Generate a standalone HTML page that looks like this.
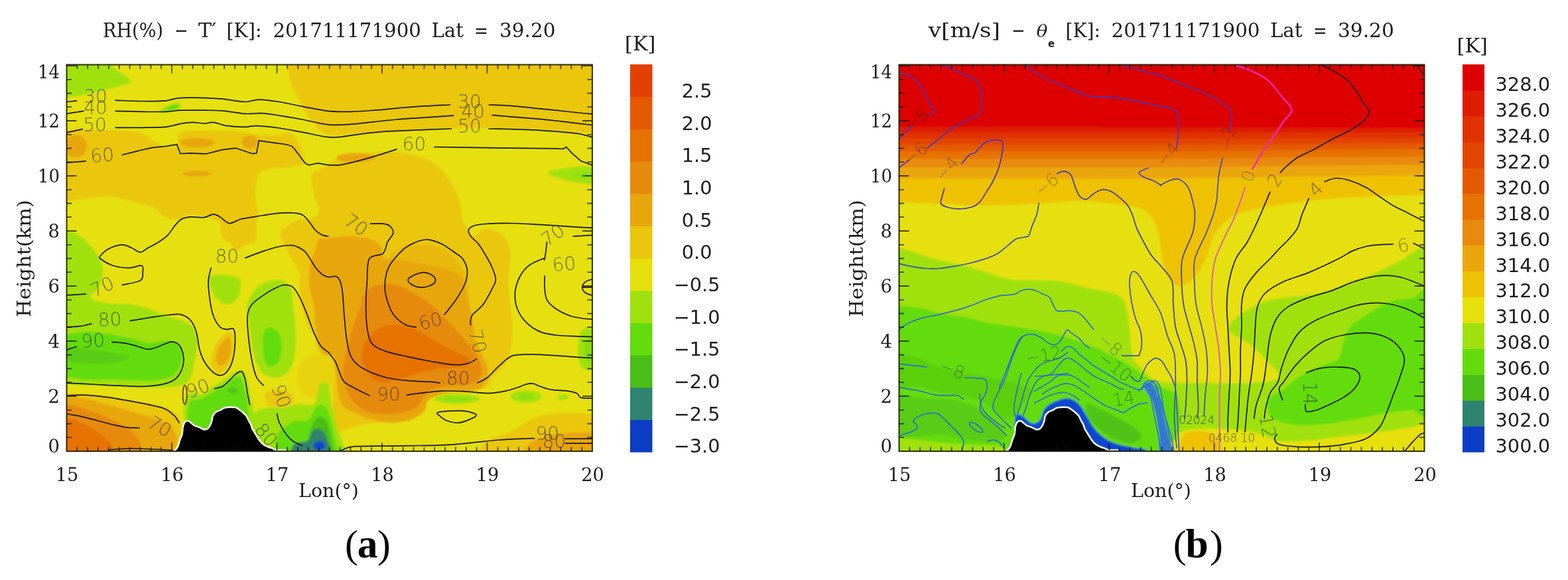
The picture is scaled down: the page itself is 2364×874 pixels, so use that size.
<!DOCTYPE html>
<html lang="en"><head><meta charset="utf-8"><title>Cross sections</title>
<style>html,body{margin:0;padding:0;background:#fff}svg{display:block}text{font-family:"DejaVu Serif","Liberation Serif",serif;fill:#1c1c1c}.sans{font-family:"DejaVu Sans","Liberation Sans",sans-serif}.lab{font-family:"DejaVu Sans Light","DejaVu Sans","Liberation Sans",sans-serif;font-weight:200}.capr{font-family:"Liberation Serif","DejaVu Serif",serif;fill:#000}.cap{font-family:"Liberation Serif","DejaVu Serif",serif;font-weight:bold;fill:#000}</style></head><body>
<svg width="2364" height="874" viewBox="0 0 2364 874">
<defs>
<filter id="bf" x="-5%" y="-5%" width="110%" height="110%"><feGaussianBlur stdDeviation="1.6"/></filter>
<filter id="bl" x="-5%" y="-5%" width="110%" height="110%"><feGaussianBlur stdDeviation="0.6"/></filter>
<filter id="bc" x="-10%" y="-20%" width="120%" height="140%"><feGaussianBlur stdDeviation="0.45"/></filter>
<filter id="bt" x="-5%" y="-20%" width="110%" height="140%"><feGaussianBlur stdDeviation="0.7"/></filter>
<clipPath id="cl"><rect x="100.5" y="97.5" width="792.5" height="582.5"/></clipPath>
<clipPath id="cr"><rect x="1355.5" y="97.5" width="792.0" height="582.5"/></clipPath>
</defs>
<rect width="2364" height="874" fill="#fff"/>
<g clip-path="url(#cl)">
<rect x="98.5" y="95.5" width="796.5" height="586.5" fill="#E6E010"/>
<g filter="url(#bf)">
<path d="M26.3 193C36.6 175 68.1 194.3 88.1 194.7C108.2 195.2 126.5 195 146.5 195.8C166.5 196.5 192.9 195.6 208.3 199.2C223.8 202.7 229.5 213.2 239.2 217C248.9 220.9 261.5 225.1 266.7 222.2C271.8 219.3 264.4 204 270.1 199.9C275.8 195.7 286.9 197.6 301 197.1C315.1 196.7 340 196.1 354.9 197.1C369.8 198.2 379.2 202.3 390.3 203.3C401.3 204.3 413.2 203.9 421.2 203.3C429.2 202.7 433.2 197 438.3 199.9C443.5 202.7 448.6 213 452.1 220.5C455.5 227.9 461.2 239.4 458.9 244.5C456.7 249.7 447.5 249.7 438.3 251.4C429.2 253.1 413.7 251.9 404 254.8C394.3 257.7 384.6 262.8 380 268.5C375.4 274.3 375.4 282.3 376.5 289.1C377.7 296 385.1 301.7 386.8 309.7C388.6 317.8 387.4 328.1 386.8 337.2C386.3 346.4 388.6 359.5 383.4 364.7C378.3 369.8 364 369.3 355.9 368.1C347.9 367 339.3 363 335.3 357.8C331.3 352.7 335.3 342.4 331.9 337.2C328.5 332.1 322.2 329.2 314.7 326.9C307.3 324.6 295.3 322.9 287.3 323.5C279.3 324 273 329.8 266.7 330.3C260.4 330.9 255.2 329.8 249.5 326.9C243.8 324 240.9 317.2 232.3 313.2C223.8 309.2 209.4 305.7 198 302.9C186.6 300 175.1 296.6 163.7 296C152.2 295.4 141.9 298.3 129.3 299.4C116.7 300.6 105.3 302.3 88.1 302.9C71 303.4 36.6 321.2 26.3 302.9C16 284.6 16 211 26.3 193Z" fill="#EAC60A"/>
<path d="M424.6 69.4C339.9 74 430.9 87.7 433.2 96.9C435.5 106 434.6 114 438.3 124.3C442.1 134.6 449.8 148.4 455.5 158.7C461.2 169 466.1 178.7 472.7 186.1C479.3 193.6 485.6 200.7 495 203.3C504.4 205.9 517.9 202.2 529.3 201.6C540.8 201 552.2 200.4 563.7 199.9C575.1 199.3 583.7 199 598 198.2C612.3 197.3 632.3 195.6 649.5 194.7C666.7 193.9 681 193.3 701 193C721 192.7 746.8 192.4 769.7 193C792.6 193.6 817.9 195.3 838.3 196.4C858.8 197.6 875.4 199.3 892.6 199.9C909.8 200.4 933.2 221.6 941.4 199.9C949.5 178.1 1027.5 91.1 941.4 69.4C855.2 47.7 509.3 64.8 424.6 69.4Z" fill="#EAC60A"/>
<path d="M470.2 263.3C472.5 256.4 478.8 258.2 487.3 253C495.9 247.9 510.2 236.1 521.7 232.4C533.1 228.7 543.4 231.3 556 230.7C568.6 230.1 582.9 227.5 597.2 229C611.5 230.4 630.4 234.7 641.8 239.3C653.3 243.8 659 249.6 665.9 256.4C672.7 263.3 678.5 272.5 683 280.5C687.6 288.5 691.1 296.5 693.3 304.5C695.6 312.5 695.1 322.2 696.8 328.5C698.5 334.8 700.8 337.7 703.6 342.3C706.5 346.9 709.2 355.6 713.9 356C718.7 356.4 724.9 345.3 731.9 344.8C738.9 344.2 749.9 348.2 755.9 352.7C762 357.1 765.7 365.3 768 371.5C770.3 377.8 770 381.2 769.7 390C769.4 398.8 766.2 412.9 766.2 424.3C766.2 435.8 768.5 447.2 769.7 458.7C770.8 470.1 773.1 481.6 773.1 493C773.1 504.4 772 517.6 769.7 527.3C767.4 537.1 764 544.5 759.4 551.4C754.8 558.2 746.2 563.4 742.2 568.5C738.2 573.7 742.2 579.4 735.3 582.3C728.5 585.1 715.3 584 701 585.7C686.7 587.4 659.8 588.6 649.5 592.6C639.2 596.6 643.2 604 639.2 609.7C635.2 615.5 632.3 622.9 625.5 626.9C618.6 630.9 608.3 632.1 598 633.8C587.7 635.5 575.1 635.5 563.7 637.2C552.2 638.9 537.9 641.8 529.3 644.1C520.8 646.4 516.7 649.2 512.2 650.9C507.6 652.7 503.6 663.5 501.9 654.4C500.2 645.2 502.4 614.3 501.9 596C501.3 577.7 500.7 561.7 498.4 544.5C496.1 527.3 492.4 499.9 488.1 493C483.8 486.1 477.5 506.2 472.7 503.3C467.8 500.4 462.4 486.1 458.9 475.8C455.5 465.5 452.7 452.9 452.1 441.5C451.5 430.1 451.4 405.7 455.5 407.2C459.7 408.6 474 447.2 477 450.1C480.1 453 473.6 434.6 473.6 424.7C473.6 414.7 478.8 399.5 477 390.3C475.3 381.2 470.2 374.3 463.3 369.7C456.4 365.2 442.1 366.9 435.8 362.9C429.5 358.9 422.7 350.3 425.5 345.7C428.4 341.1 443.8 339.4 453 335.4C462.2 331.4 477 328.5 480.5 321.7C483.9 314.8 475.3 303.9 473.6 294.2C471.9 284.5 467.9 270.2 470.2 263.3Z" fill="#EAC60A"/>
<path d="M350 204.9C355.7 190.6 364.3 199.2 370.6 201.5C376.9 203.8 384.3 210.1 387.8 218.7C391.2 227.3 391.8 241.6 391.2 253C390.6 264.4 384.9 275.9 384.3 287.3C383.8 298.8 388.3 310.2 387.8 321.7C387.2 333.1 384.9 347.4 380.9 356C376.9 364.6 368.9 370.9 363.7 373.2C358.6 375.5 354.6 384 350 369.7C345.4 355.4 336.3 314.8 336.3 287.3C336.3 259.9 344.3 219.2 350 204.9Z" fill="#EAC60A"/>
<path d="M424.4 348.6C428.6 342.9 442.7 333.1 451.9 330.8C461 328.5 470.2 331.5 479.4 334.9C488.5 338.3 502.2 319.4 506.8 351.4C511.4 383.4 511.4 497.8 506.8 527.1C502.2 556.4 485.1 536.2 479.4 527.1C473.6 517.9 475 487.7 472.5 472.2C470 456.6 467.7 443.8 464.3 433.7C460.8 423.7 456.2 419.6 451.9 411.8C447.6 404 442.3 394.8 438.2 387.1C434.1 379.3 429.5 371.5 427.2 365.1C424.9 358.7 420.3 354.4 424.4 348.6Z" fill="#EAC60A"/>
<path d="M26.3 590.9C38.6 567.4 83 592 100.2 592.6C117.3 593.1 118.7 593.4 129.3 594.3C139.9 595.2 152.2 596 163.7 597.7C175.1 599.4 186.6 602.6 198 604.6C209.4 606.6 222.6 607.7 232.3 609.7C242.1 611.7 250.1 613.2 256.4 616.6C262.7 620 267.2 624.6 270.1 630.3C273 636.1 274.1 642.6 273.5 650.9C273 659.2 267.8 666.4 266.7 680.1C265.5 693.9 306.7 724.5 266.7 733.3C226.6 742.2 66.4 757.1 26.3 733.3C-13.7 709.6 14 614.3 26.3 590.9Z" fill="#EAC60A"/>
<path d="M321.6 527.3C323.9 521 327.9 514.7 331.9 510.2C335.9 505.6 342.2 499.9 345.6 499.9C349.1 499.9 351.7 504.4 352.5 510.2C353.4 515.9 352.5 526.8 350.8 534.2C349.1 541.6 345.9 550.2 342.2 554.8C338.5 559.4 332.5 562.8 328.5 561.7C324.5 560.5 319.3 553.7 318.2 547.9C317 542.2 319.3 533.6 321.6 527.3Z" fill="#EAC60A"/>
<path d="M458.9 541.1C462.7 537.6 466.7 534.8 472.7 534.2C478.7 533.6 489.3 533.1 495 537.6C500.7 542.2 507 552.5 507 561.7C507 570.8 500.7 586.3 495 592.6C489.3 598.9 479.3 599.4 472.7 599.4C466.1 599.4 459.5 596.6 455.5 592.6C451.5 588.6 449.5 581.7 448.6 575.4C447.8 569.1 448.6 560.5 450.4 554.8C452.1 549.1 455.2 544.5 458.9 541.1Z" fill="#E8D20C"/>
<path d="M400.6 592.6C402.9 588.9 411.5 587.4 417.7 587.4C424 587.4 434.3 589.4 438.3 592.6C442.4 595.7 444.1 602.9 441.8 606.3C439.5 609.7 430.9 612.6 424.6 613.2C418.3 613.7 408 613.2 404 609.7C400 606.3 398.3 596.3 400.6 592.6Z" fill="#EAC60A"/>
<path d="M718.2 688.7C721 677.3 726.8 671 735.3 664.7C743.9 658.4 758.2 656.7 769.7 650.9C781.1 645.2 792.6 634.9 804 630.3C815.5 625.8 823.6 624.6 838.3 623.5C853.1 622.3 875.4 623.5 892.6 623.5C909.8 623.5 933.2 605.2 941.4 623.5C949.5 641.8 978.5 715 941.4 733.3C904.2 751.7 755.4 740.8 718.2 733.3C681 725.9 715.3 700.2 718.2 688.7Z" fill="#EAC60A"/>
<path d="M586.9 390.3C588.6 376.6 595.5 380 600.6 376.6C605.8 373.2 609.2 370.9 617.8 369.7C626.4 368.6 641.8 367.5 652.1 369.7C662.4 372 671.6 376.6 679.6 383.5C687.6 390.3 695.6 402.4 700.2 410.9C704.8 419.5 708.2 427 707.1 435C705.9 443 712.8 455 693.3 459C673.9 463 608.1 470.5 590.3 459C572.6 447.6 585.2 404.1 586.9 390.3Z" fill="#E9B80A"/>
<path d="M328.5 527.3C330.4 522.8 334.2 516.8 337.1 513.6C339.9 510.5 343.8 506.2 345.6 508.5C347.5 510.7 349 521.3 348.4 527.3C347.8 533.3 345 540.5 342.2 544.5C339.5 548.5 334.7 551.9 331.9 551.4C329.2 550.8 326.3 545.1 325.7 541.1C325.2 537.1 326.6 531.9 328.5 527.3Z" fill="#E8A60A"/>
<path d="M786.8 688.7C789.7 677.3 795.4 670.4 804 664.7C812.6 659 823.6 656.7 838.3 654.4C853.1 652.1 875.4 651.5 892.6 650.9C909.8 650.4 933.2 637.2 941.4 650.9C949.5 664.7 967.1 719.6 941.4 733.3C915.6 747.1 812.6 740.8 786.8 733.3C761.1 725.9 784 700.2 786.8 688.7Z" fill="#E8A60A"/>
<path d="M563.7 400.3C569.4 394.6 569.4 390.6 580.8 390C592.3 389.4 614.6 393.4 632.3 396.9C650.1 400.3 675.8 404.9 687.3 410.6C698.7 416.3 697 420.3 701 431.2C705 442.1 708.7 462.7 711.3 475.8C713.9 489 713.6 499.9 716.5 510.2C719.3 520.5 725.3 529.6 728.5 537.6C731.6 545.7 735.9 550.2 735.3 558.2C734.8 566.3 735.3 580 725 585.7C714.7 591.4 686.7 589.7 673.5 592.6C660.4 595.4 651.8 598.3 646.1 602.9C640.4 607.5 644.4 614.9 639.2 620C634.1 625.2 624.9 631 615.2 633.8C605.4 636.5 592.3 637.7 580.8 636.5C569.4 635.4 557.4 631.4 546.5 626.9C535.6 622.4 522.2 619.5 515.6 609.7C509 600 508.7 582.3 507 568.5C505.3 554.8 503.9 539.9 505.3 527.3C506.7 514.7 511.6 504.4 515.6 493C519.6 481.6 524.2 470.1 529.3 458.7C534.5 447.2 540.8 434.1 546.5 424.3C552.2 414.6 557.9 406 563.7 400.3Z" fill="#E8A60A"/>
<path d="M477 369.7C479.9 353.1 485.6 361.7 494.2 359.4C502.8 357.2 518.2 356 528.5 356C538.8 356 548.6 357.2 556 359.4C563.4 361.7 569.5 364.6 573.2 369.7C576.9 374.9 576 383.5 578.3 390.3C580.6 397.2 584.9 399.5 586.9 410.9C588.9 422.4 608.7 451 590.3 459C572 467 495.9 473.9 477 459C458.2 444.1 474.2 386.3 477 369.7Z" fill="#E8A60A"/>
<path d="M26.3 596C38.6 573.4 83 596.9 100.2 597.7C117.3 598.6 118.7 599.2 129.3 601.2C139.9 603.2 152.2 606.6 163.7 609.7C175.1 612.9 186.6 616.6 198 620C209.4 623.5 222.6 626.9 232.3 630.3C242.1 633.8 250.7 635.5 256.4 640.6C262.1 645.8 265.5 654.7 266.7 661.2C267.8 667.8 263.8 668.1 263.2 680.1C262.7 692.1 302.7 724.5 263.2 733.3C223.8 742.2 65.8 756.2 26.3 733.3C-13.2 710.5 14 618.6 26.3 596Z" fill="#E8A60A"/>
<path d="M472.7 383.1C477.5 376.3 483.6 376.3 495 383.1C506.4 390 533.6 400.3 541.4 424.3C549.1 448.4 549.1 509 541.4 527.3C533.6 545.7 504.7 534.2 495 534.2C485.3 534.2 486.1 534.2 483 527.3C479.8 520.5 477.8 504.4 476.1 493C474.4 481.6 474.4 470.1 472.7 458.7C471 447.2 465.8 436.9 465.8 424.3C465.8 411.7 467.8 390 472.7 383.1Z" fill="#E8A60A"/>
<path d="M131.1 220.5C131.1 223.8 129.7 227.8 127.8 230.6C125.8 233.3 122.4 235.8 119.2 236.8C116 237.8 111.8 237.8 108.6 236.8C105.4 235.8 102 233.3 100 230.6C98 227.8 96.7 223.8 96.7 220.5C96.7 217.1 98 213.1 100 210.4C102 207.7 105.4 205.2 108.6 204.1C111.8 203.1 116 203.1 119.2 204.1C122.4 205.2 125.8 207.7 127.8 210.4C129.7 213.1 131.1 217.1 131.1 220.5Z" fill="#E8A60A"/>
<path d="M323.3 215.3C323.3 216.8 321.4 218.6 318.4 219.8C315.4 221 310.3 222 305.5 222.5C300.7 223 294.4 223 289.6 222.5C284.8 222 279.7 221 276.7 219.8C273.8 218.6 271.8 216.8 271.8 215.3C271.8 213.8 273.8 212.1 276.7 210.9C279.7 209.7 284.8 208.6 289.6 208.1C294.4 207.7 300.7 207.7 305.5 208.1C310.3 208.6 315.4 209.7 318.4 210.9C321.4 212.1 323.3 213.8 323.3 215.3Z" fill="#E8A60A"/>
<path d="M388.6 214.3C388.6 216.3 387.7 218.7 386.3 220.3C384.9 222 382.5 223.5 380.3 224.1C378 224.7 375.1 224.7 372.8 224.1C370.6 223.5 368.2 222 366.8 220.3C365.4 218.7 364.5 216.3 364.5 214.3C364.5 212.3 365.4 209.9 366.8 208.2C368.2 206.6 370.6 205.1 372.8 204.5C375.1 203.9 378 203.9 380.3 204.5C382.5 205.1 384.9 206.6 386.3 208.2C387.7 209.9 388.6 212.3 388.6 214.3Z" fill="#E8A60A"/>
<path d="M319.2 261.7C319.2 262.5 317.5 263.4 314.9 264.1C312.4 264.7 307.9 265.3 303.8 265.6C299.6 265.8 294.2 265.8 290 265.6C285.8 265.3 281.4 264.7 278.8 264.1C276.3 263.4 274.6 262.5 274.6 261.7C274.6 260.9 276.3 259.9 278.8 259.3C281.4 258.6 285.8 258 290 257.8C294.2 257.5 299.6 257.5 303.8 257.8C307.9 258 312.4 258.6 314.9 259.3C317.5 259.9 319.2 260.9 319.2 261.7Z" fill="#E8A60A"/>
<path d="M565.4 237.6C565.4 239 563.2 240.6 559.8 241.7C556.5 242.8 550.7 243.8 545.2 244.2C539.8 244.6 532.6 244.6 527.2 244.2C521.7 243.8 516 242.8 512.6 241.7C509.2 240.6 507 239 507 237.6C507 236.3 509.2 234.7 512.6 233.6C516 232.5 521.7 231.5 527.2 231.1C532.6 230.7 539.8 230.7 545.2 231.1C550.7 231.5 556.5 232.5 559.8 233.6C563.2 234.7 565.4 236.3 565.4 237.6Z" fill="#E8A60A"/>
<path d="M522.5 527.3C525.9 512.6 532.2 490.1 537.9 475.8C543.6 461.5 549.6 448.9 556.8 441.5C564 434.1 571.1 431.8 580.8 431.2C590.6 430.6 603.7 433.5 615.2 438.1C626.6 442.6 638.1 449.5 649.5 458.7C661 467.8 674.1 482.7 683.8 493C693.6 503.3 701.6 512.5 707.9 520.5C714.2 528.5 718.6 534.2 721.6 541.1C724.6 547.9 727.4 555.4 725.7 561.7C724 568 721.7 575.2 711.3 578.8C700.9 582.4 675 580.6 663.2 583.3C651.5 586.1 646.5 590.3 640.9 595.3C635.3 600.3 635.9 608.6 629.6 613.2C623.3 617.8 613.6 621.1 603.2 622.8C592.7 624.5 577.1 624.8 567.1 623.5C557.1 622.1 549.9 619.2 543.1 614.5C536.2 609.9 530.2 603.7 525.9 595.3C521.6 586.9 517.9 575.4 517.3 564.1C516.7 552.7 519 542 522.5 527.3Z" fill="#E68A0A"/>
<path d="M556 435C561.7 429.8 574.3 428.1 583.5 428.1C592.6 428.1 604.1 429.8 610.9 435C617.8 440.1 635 455 624.7 459C614.4 463 560.6 463 549.1 459C537.7 455 550.3 440.1 556 435Z" fill="#E68A0A"/>
<path d="M26.3 608C38.6 587.4 83 608.3 100.2 609.7C117.3 611.2 118.7 613.2 129.3 616.6C139.9 620 153.4 625.8 163.7 630.3C174 634.9 183.7 638.9 191.1 644.1C198.6 649.2 204.9 655.2 208.3 661.2C211.7 667.3 211.2 668.1 211.7 680.1C212.3 692.1 242.6 724.5 211.7 733.3C180.8 742.2 57.2 754.2 26.3 733.3C-4.6 712.5 14 628.6 26.3 608Z" fill="#E68A0A"/>
<path d="M546.5 527.3C548.8 518.2 556.2 506.2 563.7 499.9C571.1 493.6 582 490.7 591.1 489.6C600.3 488.4 608.9 489.6 618.6 493C628.3 496.4 639.2 504.4 649.5 510.2C659.8 515.9 670.7 522.2 680.4 527.3C690.1 532.5 704.4 537.1 707.9 541.1C711.3 545.1 707.9 549.1 701 551.4C694.1 553.7 678.1 553.1 666.7 554.8C655.2 556.5 643.8 558.8 632.3 561.7C620.9 564.5 608.3 569.7 598 572C587.7 574.3 578.5 578.3 570.5 575.4C562.5 572.5 553.9 562.8 549.9 554.8C545.9 546.8 544.2 536.5 546.5 527.3Z" fill="#E67206"/>
<path d="M26.3 628.6C38.6 611.5 84.1 628.9 100.2 630.3C116.2 631.8 114.7 633.8 122.5 637.2C130.2 640.6 139.6 646.4 146.5 650.9C153.4 655.5 159.7 659.8 163.7 664.7C167.7 669.5 169.4 668.7 170.5 680.1C171.7 691.6 194.6 724.5 170.5 733.3C146.5 742.2 50.4 750.8 26.3 733.3C2.3 715.9 14 645.8 26.3 628.6Z" fill="#E67206"/>
<path d="M26.3 55.7C50.1 40.2 145.1 48.8 168.8 55.7C192.6 62.5 166.2 87.7 168.8 96.9C171.4 106 179.4 106.3 184.3 110.6C189.1 114.9 198.6 119.5 198 122.6C197.4 125.8 189.4 126.9 180.8 129.5C172.3 132.1 157.4 135.5 146.5 138.1C135.6 140.6 123.3 143.5 115.6 144.9C107.9 146.4 115 146.1 100.2 146.7C85.3 147.2 38.6 163.5 26.3 148.4C14 133.2 2.6 71.1 26.3 55.7Z" fill="#A0E10A"/>
<path d="M240.9 166.2C242.6 164.2 251.5 159.5 256.4 157.6C261.2 155.8 267.5 154.5 270.1 155.2C272.7 156 273.5 159.9 271.8 162.1C270.1 164.3 264.1 167 259.8 168.3C255.5 169.5 249.2 170 246.1 169.7C242.9 169.3 239.2 168.2 240.9 166.2Z" fill="#A0E10A"/>
<path d="M26.3 345.4C38.6 307 84.1 346.8 100.2 348.8C116.2 350.8 115.9 353.1 122.5 357.4C129 361.7 135.1 369.1 139.6 374.5C144.2 380 147.4 384.6 149.9 390C152.5 395.4 155.1 400.3 155.1 407.2C155.1 414 153.1 424.3 149.9 431.2C146.8 438.1 133.9 444.1 136.2 448.4C138.5 452.7 153.4 455.2 163.7 457C174 458.7 187.7 457.2 198 458.7C208.3 460.1 216.9 462.7 225.5 465.5C234.1 468.4 241.5 473 249.5 475.8C257.5 478.7 266.7 479.8 273.5 482.7C280.4 485.6 286.7 487.9 290.7 493C294.7 498.2 297 505.6 297.6 513.6C298.1 521.6 295.9 531.9 294.1 541.1C292.4 550.2 290.7 562 287.3 568.5C283.8 575.1 282.7 578 273.5 580.6C264.4 583.1 247.8 583.7 232.3 584C216.9 584.3 198 582.8 180.8 582.3C163.7 581.7 142.8 581.1 129.3 580.6C115.9 580 117.3 579.1 100.2 578.8C83 578.6 38.6 617.8 26.3 578.8C14 539.9 14 383.7 26.3 345.4Z" fill="#A0E10A"/>
<path d="M314.7 417.5C317.6 414 327.9 413.7 335.3 414C342.8 414.3 354.8 415.8 359.4 419.2C364 422.6 363.4 429.2 362.8 434.6C362.2 440.1 359.4 447.8 355.9 451.8C352.5 455.8 346.8 458.7 342.2 458.7C337.6 458.7 332.5 455.8 328.5 451.8C324.5 447.8 320.5 440.4 318.2 434.6C315.9 428.9 311.9 420.9 314.7 417.5Z" fill="#A0E10A"/>
<path d="M373.1 458.7C374.8 448.9 381.7 440.4 386.8 434.6C392 428.9 397.7 426.3 404 424.3C410.3 422.3 418.9 420.9 424.6 422.6C430.3 424.3 435.5 428.6 438.3 434.6C441.2 440.6 440.6 448.9 441.8 458.7C442.9 468.4 444.6 481.6 445.2 493C445.8 504.4 446.4 517 445.2 527.3C444.1 537.6 442.4 547.9 438.3 554.8C434.3 561.7 427.5 566.8 421.2 568.5C414.9 570.3 406.3 568.5 400.6 565.1C394.9 561.7 390.3 555.4 386.8 547.9C383.4 540.5 381.7 529.6 380 520.5C378.3 511.3 377.7 503.3 376.5 493C375.4 482.7 371.4 468.4 373.1 458.7Z" fill="#A0E10A"/>
<path d="M277.7 630.3C276.1 621.2 277.5 615.3 278 609.7C278.5 604.2 278.3 600.1 280.4 597C282.5 594 286.7 592 290.7 591.5C294.7 591.1 299.9 595.6 304.4 594.3C309 593 313 587.4 318.2 584C323.3 580.6 329 577.7 335.3 573.7C341.6 569.7 350.5 562.2 355.9 560C361.4 557.7 364.8 556.2 368 560C371.1 563.7 373.1 575.1 374.8 582.3C376.5 589.4 376.8 594.9 378.3 602.9C379.7 610.9 384.8 620 383.4 630.3C382 640.6 385.7 659 369.7 664.7C353.7 670.4 302.6 670.4 287.3 664.7C271.9 659 279.2 639.5 277.7 630.3Z" fill="#A0E10A"/>
<path d="M377.7 693.8C353.9 683.9 376 646.7 377.7 634.3C379.4 622 384.4 622.7 388.1 619.5C391.8 616.3 396 615.9 400 615C404 614.2 406.9 614.5 411.9 614.3C416.9 614 423.5 614.4 429.7 613.5C435.9 612.7 443.6 609.6 449.1 609.1C454.5 608.6 458.2 610.8 462.5 610.6C466.7 610.3 471.6 611.1 474.3 607.6C477.1 604.1 477.3 594.7 478.8 589.7C480.3 584.8 481.5 580.2 483.3 577.8C485 575.5 487.2 574.9 489.2 575.6C491.2 576.4 493.6 577.5 495.2 582.3C496.8 587.1 497.4 597.2 498.9 604.6C500.4 612 502.2 619.5 504.1 626.9C505.9 634.3 507.8 642 510 649.2C512.3 656.4 515.7 662.6 517.5 670C519.2 677.5 543.7 689.9 520.4 693.8C497.1 697.8 401.5 703.7 377.7 693.8Z" fill="#A0E10A"/>
<path d="M723.3 601.2C723.3 602.5 720.7 604.1 716.8 605.2C712.8 606.3 706 607.3 699.6 607.7C693.2 608.1 684.8 608.1 678.4 607.7C672 607.3 665.2 606.3 661.2 605.2C657.3 604.1 654.7 602.5 654.7 601.2C654.7 599.8 657.3 598.2 661.2 597.1C665.2 596 672 595 678.4 594.6C684.8 594.2 693.2 594.2 699.6 594.6C706 595 712.8 596 716.8 597.1C720.7 598.2 723.3 599.8 723.3 601.2Z" fill="#A0E10A"/>
<path d="M816.4 597.7C816.4 599.5 814.6 601.6 811.9 603C809.2 604.4 804.6 605.7 800.2 606.2C795.9 606.8 790.2 606.8 785.8 606.2C781.5 605.7 776.8 604.4 774.1 603C771.4 601.6 769.7 599.5 769.7 597.7C769.7 596 771.4 593.9 774.1 592.5C776.8 591.1 781.5 589.8 785.8 589.2C790.2 588.7 795.9 588.7 800.2 589.2C804.6 589.8 809.2 591.1 811.9 592.5C814.6 593.9 816.4 596 816.4 597.7Z" fill="#A0E10A"/>
<path d="M857.2 598.8C857.2 599.6 856.6 600.5 855.6 601.2C854.6 601.8 852.9 602.4 851.3 602.7C849.7 602.9 847.6 602.9 846 602.7C844.4 602.4 842.7 601.8 841.7 601.2C840.7 600.5 840.1 599.6 840.1 598.8C840.1 597.9 840.7 597 841.7 596.3C842.7 595.7 844.4 595.1 846 594.8C847.6 594.6 849.7 594.6 851.3 594.8C852.9 595.1 854.6 595.7 855.6 596.3C856.6 597 857.2 597.9 857.2 598.8Z" fill="#A0E10A"/>
<path d="M941.4 489.6C933.2 478.1 903.5 491.3 892.6 493C881.7 494.7 879.7 494.1 876.1 499.9C872.5 505.6 871 518.8 871 527.3C871 535.9 872.5 546.2 876.1 551.4C879.7 556.5 881.7 556.5 892.6 558.2C903.5 560 933.2 573.1 941.4 561.7C949.5 550.2 949.5 501 941.4 489.6Z" fill="#A0E10A"/>
<path d="M826.3 261C826.3 257.8 844.5 254.8 855.5 253.1C866.6 251.4 878.3 251.1 892.6 250.7C906.9 250.3 933.2 246.1 941.4 250.7C949.5 255.3 949.5 273.7 941.4 278.2C933.2 282.6 906.9 278.5 892.6 277.5C878.3 276.4 866.6 274.7 855.5 272C844.5 269.2 826.3 264.1 826.3 261Z" fill="#A0E10A"/>
<path d="M251.2 163.8C251.5 162.6 256.9 159.6 259.8 158.7C262.7 157.7 267.2 157.3 268.4 158C269.5 158.7 268.4 161.4 266.7 162.8C265 164.2 260.7 166.1 258.1 166.2C255.5 166.4 250.9 165.1 251.2 163.8Z" fill="#64DC0F"/>
<path d="M26.3 501.6C38.6 490.7 83 503.6 100.2 503.3C117.3 503 118.7 499.9 129.3 499.9C139.9 499.9 152.2 501.6 163.7 503.3C175.1 505 187.7 507.9 198 510.2C208.3 512.5 216.9 516.5 225.5 517C234.1 517.6 242.6 513.6 249.5 513.6C256.4 513.6 262.4 513.6 266.7 517C271 520.5 274.7 527.9 275.3 534.2C275.8 540.5 273.3 549.1 270.1 554.8C267 560.5 263.8 565.4 256.4 568.5C248.9 571.7 238.1 573.1 225.5 573.7C212.9 574.3 196.9 572.3 180.8 572C164.8 571.7 142.8 572.5 129.3 572C115.9 571.4 117.3 569.1 100.2 568.5C83 568 38.6 579.7 26.3 568.5C14 557.4 14 512.5 26.3 501.6Z" fill="#64DC0F"/>
<path d="M397.1 503.3C398.9 496.4 403.4 493 407.4 493C411.5 493 418.3 497.6 421.2 503.3C424 509 425.2 519.9 424.6 527.3C424 534.8 421.2 543.9 417.7 547.9C414.3 551.9 407.4 553.7 404 551.4C400.6 549.1 398.3 542.2 397.1 534.2C396 526.2 395.4 510.2 397.1 503.3Z" fill="#64DC0F"/>
<path d="M282.1 630.3C281.6 621.9 282.9 618.3 283.8 613.9C284.8 609.4 285.1 605.6 288 603.6C290.8 601.5 296 603.3 301 601.5C306 599.7 312.5 595.9 318.2 592.6C323.9 589.3 329.3 585.5 335.3 581.6C341.4 577.7 349.6 571.3 354.2 569.2C358.8 567.2 360.2 565.9 362.8 569.2C365.4 572.5 367.8 581.8 369.7 589.1C371.5 596.5 373.8 600.6 373.8 613.2C373.8 625.8 384.1 656.1 369.7 664.7C355.3 673.3 301.9 670.4 287.3 664.7C272.7 659 282.7 638.8 282.1 630.3Z" fill="#64DC0F"/>
<path d="M416.4 693.8C400.9 689.4 415.6 674.3 416.4 667.1C417.1 659.9 418.1 655 420.8 650.7C423.5 646.4 428.7 643.8 432.7 641C436.7 638.3 440.1 635.5 444.6 634.3C449.1 633.2 455.8 634.8 459.5 634.3C463.2 633.9 464.4 634.3 466.9 631.4C469.4 628.4 471.6 620 474.3 616.5C477.1 613 480.3 610.8 483.3 610.6C486.2 610.3 489.7 611.5 492.2 615C494.7 618.5 496.4 625.7 498.1 631.4C499.9 637.1 501.1 642.8 502.6 649.2C504.1 655.7 505.9 662.6 507.1 670C508.2 677.5 524.4 689.9 509.3 693.8C494.2 697.8 431.8 698.3 416.4 693.8Z" fill="#64DC0F"/>
<path d="M709.6 601.2C709.6 601.7 708 602.3 705.7 602.8C703.3 603.2 699.2 603.6 695.4 603.8C691.5 603.9 686.5 603.9 682.6 603.8C678.8 603.6 674.7 603.2 672.3 602.8C670 602.3 668.4 601.7 668.4 601.2C668.4 600.6 670 600 672.3 599.5C674.7 599.1 678.8 598.7 682.6 598.5C686.5 598.4 691.5 598.4 695.4 598.5C699.2 598.7 703.3 599.1 705.7 599.5C708 600 709.6 600.6 709.6 601.2Z" fill="#8AE00C"/>
<path d="M805.4 598.1C805.4 598.8 804.4 599.7 803 600.3C801.6 600.9 799.1 601.4 796.8 601.7C794.5 601.9 791.5 601.9 789.2 601.7C786.9 601.4 784.4 600.9 783 600.3C781.6 599.7 780.7 598.8 780.7 598.1C780.7 597.3 781.6 596.4 783 595.8C784.4 595.3 786.9 594.7 789.2 594.5C791.5 594.2 794.5 594.2 796.8 594.5C799.1 594.7 801.6 595.3 803 595.8C804.4 596.4 805.4 597.3 805.4 598.1Z" fill="#8AE00C"/>
<path d="M941.4 503.3C933.2 496.4 902.2 505 892.6 506.7C883 508.5 885.6 510.2 883.7 513.6C881.7 517 880.9 522.8 880.9 527.3C880.9 531.9 881.7 537.6 883.7 541.1C885.6 544.5 883 546.8 892.6 547.9C902.2 549.1 933.2 555.4 941.4 547.9C949.5 540.5 949.5 510.2 941.4 503.3Z" fill="#84DE0C"/>
<path d="M865.8 263.4C866.4 262.2 875.1 260.7 879.5 260C884 259.2 882.3 259.1 892.6 258.9C902.9 258.8 933.2 257.2 941.4 258.9C949.5 260.6 949.5 267.5 941.4 269.2C933.2 270.9 903.5 269.6 892.6 269.2C881.7 268.9 880.6 268.1 876.1 267.2C871.7 266.2 865.2 264.6 865.8 263.4Z" fill="#86E00C"/>
<path d="M26.3 522.2C38.6 518.8 83 523.3 100.2 523.9C117.3 524.5 118.7 524.5 129.3 525.6C139.9 526.8 152.8 528.8 163.7 530.8C174.5 532.8 193.4 535.1 194.6 537.6C195.7 540.2 181.4 544.5 170.5 546.2C159.7 547.9 141.1 548.2 129.3 547.9C117.6 547.7 117.3 545.1 100.2 544.5C83 543.9 38.6 548.2 26.3 544.5C14 540.8 14 525.6 26.3 522.2Z" fill="#58CC12"/>
<path d="M358.3 588.5C358.3 589.4 357.8 590.5 356.9 591.3C356 592 354.5 592.7 353.1 593C351.7 593.3 349.9 593.3 348.5 593C347.1 592.7 345.6 592 344.7 591.3C343.8 590.5 343.2 589.4 343.2 588.5C343.2 587.5 343.8 586.4 344.7 585.6C345.6 584.9 347.1 584.2 348.5 583.9C349.9 583.6 351.7 583.6 353.1 583.9C354.5 584.2 356 584.9 356.9 585.6C357.8 586.4 358.3 587.5 358.3 588.5Z" fill="#50C414"/>
<path d="M462.5 693.8C456.4 687.6 464.2 665.1 465.4 656.7C466.7 648.2 467.9 647.7 469.9 643.3C471.9 638.8 474.8 632.4 477.3 629.9C479.8 627.4 482.3 627.7 484.8 628.4C487.2 629.1 490.2 630.9 492.2 634.3C494.2 637.8 495.4 644.3 496.7 649.2C497.9 654.2 498.8 656.7 499.6 664.1C500.5 671.5 508.1 688.9 501.9 693.8C495.7 698.8 468.5 700 462.5 693.8Z" fill="#4CBE14"/>
<path d="M435.7 693.8C426.1 691.4 437.2 683.2 438.7 679C440.1 674.7 441.1 670.8 444.6 668.6C448.1 666.3 456 666.6 459.5 665.6C462.9 664.6 463.4 665.3 465.4 662.6C467.4 659.9 469.1 651.9 471.4 649.2C473.6 646.5 476.1 646 478.8 646.2C481.5 646.5 485.3 647.7 487.7 650.7C490.2 653.7 492.3 656.9 493.7 664.1C495 671.3 505.6 688.9 495.9 693.8C486.2 698.8 445.2 696.3 435.7 693.8Z" fill="#32826E"/>
<path d="M490.1 671.8C490.1 673.2 489.5 674.8 488.5 675.8C487.5 676.9 485.8 677.9 484.2 678.3C482.5 678.7 480.4 678.7 478.8 678.3C477.2 677.9 475.5 676.9 474.5 675.8C473.5 674.8 472.9 673.2 472.9 671.8C472.9 670.5 473.5 668.9 474.5 667.8C475.5 666.7 477.2 665.7 478.8 665.3C480.4 664.9 482.5 664.9 484.2 665.3C485.8 665.7 487.5 666.7 488.5 667.8C489.5 668.9 490.1 670.5 490.1 671.8Z" fill="#0A46D2"/>
</g>
<g filter="url(#bl)" fill="none" stroke-linejoin="round" stroke-linecap="round">
<path d="M100.2 153.5L115.6 151.8" stroke="#1a1808" stroke-width="1.7"/>
<path d="M174 151.1C180.8 151.3 202.6 152.4 215.2 152.5C227.8 152.6 240.4 152.6 249.5 151.8C258.7 151 261.5 148.4 270.1 147.7C278.7 146.9 290.1 147.1 301 147.3C311.9 147.6 323.9 148 335.3 149.1C346.8 150.1 360.5 153.3 369.7 153.5C378.8 153.7 381.7 150.1 390.3 150.1C398.9 150.1 410.3 151.8 421.2 153.5C432.1 155.2 443.2 158.1 455.5 160.4C467.8 162.7 482.7 165.9 495 167.3C507.3 168.6 517.9 168.5 529.3 168.3C540.8 168.1 552.2 167.1 563.7 166.2C575.1 165.4 586.6 164.1 598 163.1C609.4 162.2 618.9 161.2 632.3 160.4C645.8 159.5 671 158.4 678.7 158" stroke="#1a1808" stroke-width="1.7"/>
<path d="M737.1 158C742.5 158.2 758.5 158.6 769.7 159.4C780.8 160.2 792.6 161.6 804 162.8C815.5 163.9 826.9 165 838.3 166.2C849.8 167.4 863.6 169.1 872.7 170C881.7 170.9 889.3 171.4 892.6 171.7" stroke="#1a1808" stroke-width="1.7"/>
<path d="M100.2 171.4L125.9 167.3" stroke="#1a1808" stroke-width="1.7"/>
<path d="M174 167.3C180.8 167.4 202.6 168.1 215.2 168.3C227.8 168.5 239.8 168.6 249.5 168.3C259.2 167.9 263.8 166.6 273.5 166.2C283.3 165.9 297.6 166.1 307.9 166.2C318.2 166.3 325 166.1 335.3 166.9C345.6 167.8 359.9 170.7 369.7 171.4C379.4 172 385.1 170.2 393.7 170.7C402.3 171.1 410.9 172.6 421.2 174.1C431.5 175.7 443.2 177.7 455.5 180C467.8 182.2 482.7 186.7 495 187.9C507.3 189.1 517.9 187.9 529.3 187.2C540.8 186.5 552.2 184.9 563.7 183.7C575.1 182.5 586.6 181 598 180C609.4 178.9 618 178.5 632.3 177.6C646.6 176.6 675.3 174.7 683.8 174.1" stroke="#1a1808" stroke-width="1.7"/>
<path d="M742.2 173.4C746.8 173.8 759.4 175 769.7 175.8C780 176.7 792.6 177.6 804 178.6C815.5 179.6 826.9 180.8 838.3 182C849.8 183.3 863.6 185.1 872.7 186.1C881.7 187.2 889.3 188.1 892.6 188.5" stroke="#1a1808" stroke-width="1.7"/>
<path d="M100.2 199.9L124.2 194.7" stroke="#1a1808" stroke-width="1.7"/>
<path d="M174 192.3C180.8 192.3 202.6 192.5 215.2 192.3C227.8 192.1 239.8 192.3 249.5 191.3C259.2 190.3 266.7 187.3 273.5 186.1C280.4 185 285 184.4 290.7 184.4C296.4 184.4 302.7 186.1 307.9 186.1C313 186.1 315.9 183.8 321.6 184.4C327.3 185 334.2 188.4 342.2 189.6C350.2 190.7 362.2 191.3 369.7 191.3C377.1 191.3 378.3 189.3 386.8 189.6C395.4 189.9 409.7 191.4 421.2 193C432.6 194.6 443.2 196.9 455.5 199.2C467.8 201.5 485 205.6 495 206.7C505 207.9 507 206.9 515.6 206.1C524.2 205.2 535.6 202.9 546.5 201.6C557.4 200.3 566.5 199.1 580.8 198.2C595.1 197.2 615.7 196.4 632.3 195.8C648.9 195.1 672.4 194.3 680.4 194" stroke="#1a1808" stroke-width="1.7"/>
<path d="M737.1 194C742.5 194.1 758.5 194.4 769.7 194.7C780.8 195 792.6 195.2 804 195.8C815.5 196.3 826.9 197.2 838.3 198.2C849.8 199.1 863.6 200.2 872.7 201.6C881.7 203 889.3 205.9 892.6 206.7" stroke="#1a1808" stroke-width="1.7"/>
<path d="M100.2 245.2L129.3 242.8" stroke="#1a1808" stroke-width="1.7"/>
<path d="M184.3 233.5C188.3 232.5 200.3 229.2 208.3 227.3C216.3 225.5 225.5 223.3 232.3 222.2C239.2 221 243.8 221.2 249.5 220.5C255.2 219.7 263.8 218.2 266.7 217.7" stroke="#1a1808" stroke-width="1.7"/>
<path d="M266.7 217.7L271.8 231.5L287.3 230.8L311.3 231.8L335.3 225.6L355.9 223.2L380 231.5L386.8 230.8L390.3 211.9" stroke="#1a1808" stroke-width="1.7"/>
<path d="M390.3 211.9C394.3 212.5 406.3 214 414.3 215.3C422.3 216.6 432.6 217.2 438.3 219.8C444.1 222.4 445.2 226.7 448.6 230.8C452.1 234.9 456.1 241.5 458.9 244.5C461.8 247.5 462.4 248.3 465.8 248.6C469.2 248.9 474.7 246.2 479.5 246.2C484.4 246.2 489.6 248.2 495 248.6C500.4 249 506.4 249.2 512.2 248.6C517.9 248.1 520.8 247.3 529.3 245.2C537.9 243.1 552.2 239.3 563.7 235.9C575.1 232.5 592.3 226.8 598 224.9" stroke="#1a1808" stroke-width="1.7"/>
<path d="M654.7 221.5C662.4 221.6 681.8 221.9 701 222.2C720.2 222.5 746.8 222.9 769.7 223.2C792.6 223.5 825.2 223.7 838.3 223.9C851.5 224.1 846.9 224.5 848.6 224.6" stroke="#1a1808" stroke-width="1.7"/>
<path d="M848.6 224.6L853.8 221.5L862.4 230.8L876.1 242.8L892.6 248.6" stroke="#1a1808" stroke-width="1.7"/>
<path d="M184.3 429.5C188.8 428.3 206.6 425.8 211.7 422.6C216.9 419.5 214.9 414.3 215.2 410.6C215.5 406.9 216.9 401.4 213.5 400.3C210 399.2 201.7 403.7 194.6 403.7C187.4 403.7 177.7 402.6 170.5 400.3C163.4 398 154.8 392.5 151.7 390C148.5 387.5 149.6 387.8 151.7 385.3C153.7 382.8 158.2 377.7 163.7 375C169.1 372.2 178.5 369.1 184.3 368.8C190 368.5 193.4 371.4 198 373.3C202.6 375.2 207.7 380 211.7 380.1C215.7 380.3 217.5 376.9 222 374.3C226.6 371.7 234.1 368 239.2 364.7C244.4 361.4 248.9 358.4 252.9 354.4C256.9 350.4 259.8 344.6 263.2 340.6C266.7 336.6 269.5 332.6 273.5 330.3C277.5 328.1 281.6 327.4 287.3 326.9C293 326.5 302.2 328.3 307.9 327.6C313.6 326.9 317.6 322.9 321.6 322.8C325.6 322.7 327.9 324.6 331.9 326.9C335.9 329.2 340.5 336 345.6 336.5C350.8 337.1 355.9 332.1 362.8 330.3C369.7 328.6 378.3 327.7 386.8 326.2C395.4 324.8 405.7 322.7 414.3 321.8C422.9 320.8 431.5 320.4 438.3 320.7C445.2 321 450.9 321.3 455.5 323.5C460.1 325.7 462.4 329.8 465.8 333.8C469.2 337.8 472.7 344.1 476.1 347.5C479.5 350.9 483.3 352.9 486.4 354.4C489.6 355.8 493.6 355.8 495 356.1" stroke="#1a1808" stroke-width="1.7"/>
<path d="M129.3 443.2L100.2 444.9" stroke="#1a1808" stroke-width="1.7"/>
<path d="M558.5 337.2C561.7 337.2 572.5 336.6 577.4 337.2C582.3 337.8 585.1 338.4 587.7 340.6C590.3 342.9 593.4 346.9 592.9 350.9C592.3 354.9 586.8 359.5 584.3 364.7C581.7 369.8 582 377.6 577.4 381.8C572.8 386.1 560.8 382.9 556.8 390C552.8 397.1 554.2 412.9 553.4 424.3C552.5 435.8 551.7 447.2 551.7 458.7C551.7 470.1 551.9 483.3 553.4 493C554.8 502.7 555.7 511 560.2 517C564.8 523 571.7 525.6 580.8 529.1C590 532.5 603.7 535.1 615.2 537.6C626.6 540.2 638.1 542.5 649.5 544.5C661 546.5 674.7 549.1 683.8 549.7C693 550.2 698.7 549.4 704.4 547.9C710.2 546.5 715.9 542.2 718.2 541.1" stroke="#1a1808" stroke-width="1.7"/>
<path d="M709.6 489.6C709.9 487.3 708.2 481 711.3 475.8C714.5 470.7 723.3 465.5 728.5 458.7C733.6 451.8 739.1 440.9 742.2 434.6C745.4 428.3 747.4 426.1 747.4 420.9C747.4 415.8 744.2 408.9 742.2 403.7C740.2 398.6 738.8 395.9 735.3 390C731.9 384.1 725.6 373.5 721.6 368.1C717.6 362.7 713.9 361.2 711.3 357.8C708.7 354.4 705.6 350.5 706.2 347.5C706.7 344.5 709.9 341.7 714.7 340C719.6 338.2 726.2 337.8 735.3 337.2C744.5 336.6 758.2 336.4 769.7 336.5C781.1 336.6 792.6 337.3 804 337.9C815.5 338.5 826.9 339.2 838.3 340C849.8 340.7 863.6 341.8 872.7 342.4C881.7 342.9 889.3 343.2 892.6 343.4" stroke="#1a1808" stroke-width="1.7"/>
<path d="M864.1 356.1L892.6 354.4" stroke="#1a1808" stroke-width="1.7"/>
<path d="M369.7 388.7C374.3 387 388.6 381.3 397.1 378.4C405.7 375.6 413.7 373 421.2 371.5C428.6 370.1 435.5 368.7 441.8 369.8C448.1 371 454.7 375 458.9 378.4C463.2 381.8 464.7 385.9 467.5 390.1C470.4 394.3 473 399.7 476.1 403.7C479.3 407.7 483.3 411.7 486.4 414C489.6 416.3 491.3 416.9 495 417.5C498.7 418 505.3 414.6 508.7 417.5C512.2 420.3 513.9 424.9 515.6 434.6C517.3 444.4 517.9 463.2 519 475.8C520.2 488.4 520.8 499.9 522.5 510.2C524.2 520.5 525.3 530.2 529.3 537.6C533.3 545.1 537.9 549.7 546.5 554.8C555.1 560 569.4 565.4 580.8 568.5C592.3 571.7 603.7 572.5 615.2 573.7C626.6 574.8 641.5 574.8 649.5 575.4C657.5 576 661 576.8 663.2 577.1" stroke="#1a1808" stroke-width="1.7"/>
<path d="M719.9 577.1C722.5 575.7 729.9 572.8 735.3 568.5C740.8 564.2 746.2 556.8 752.5 551.4C758.8 545.9 764.5 538.8 773.1 535.9C781.7 533.1 793.1 534.2 804 534.2C814.9 534.2 826.9 535.2 838.3 535.9C849.8 536.6 863.6 537.8 872.7 538.3C881.7 538.9 889.3 539.2 892.6 539.4" stroke="#1a1808" stroke-width="1.7"/>
<path d="M627.2 493C624.6 492.4 617.2 492.4 611.7 489.6C606.3 486.7 598.9 481 594.6 475.8C590.2 470.6 588 465.4 585.6 458.3C583.2 451.3 580.2 442.8 580.2 433.6C580.2 424.4 581.5 412.5 585.6 403.4C589.8 394.2 599.7 384.3 604.9 378.8C610.1 373.2 612.3 372.5 616.9 369.8C621.5 367.2 627.5 364.4 632.3 363C637.2 361.5 640.4 360.4 646.1 361.2C651.8 362.1 659.8 364.7 666.7 368.1C673.5 371.5 682.1 378.2 687.3 381.8C692.4 385.5 694.7 385.9 697.6 390.1C700.4 394.3 703.9 400.9 704.4 407.2C705 413.4 703.9 420.3 701 427.8C698.1 435.2 692.4 444.1 687.3 451.8C682.1 459.5 673 470.4 670.1 474.1" stroke="#1a1808" stroke-width="1.7"/>
<path d="M615.2 420.9C616 418.5 621.5 415.8 625.5 414C629.5 412.3 634.6 410.3 639.2 410.6C643.8 410.9 650.1 413.5 652.9 415.8C655.8 418 657.5 421.8 656.4 424.3C655.2 426.9 650.1 429.8 646.1 431.2C642.1 432.6 636.6 433.4 632.3 432.9C628 432.5 623.2 430.5 620.3 428.5C617.5 426.5 614.3 423.3 615.2 420.9Z" stroke="#1a1808" stroke-width="1.7"/>
<path d="M495 530.8C496.7 533.1 502.4 539.4 505.3 544.5C508.2 549.7 509.9 556.5 512.2 561.7C514.5 566.8 515 571.4 519 575.4C523 579.4 529.9 582.3 536.2 585.7C542.5 589.1 553.4 594.3 556.8 596" stroke="#1a1808" stroke-width="1.7"/>
<path d="M613.5 595.3C616.6 594.9 623.5 593.6 632.3 592.6C641.2 591.5 655.2 589.6 666.7 589.1C678.1 588.7 689.6 589.3 701 589.8C712.5 590.4 725 592.7 735.3 592.6C745.6 592.5 755.4 590.6 762.8 589.1C770.3 587.7 774.8 585.7 780 584C785.1 582.3 789.7 579.8 793.7 578.8C797.7 577.9 800.6 577.6 804 578.2C807.4 578.7 809.7 580.7 814.3 582.3C818.9 583.8 824.6 586.3 831.5 587.4C838.3 588.6 849.2 588.3 855.5 589.1C861.8 590 865.8 590.9 869.2 592.6C872.7 594.3 872.2 598.2 876.1 599.4C880 600.7 889.8 600 892.6 600.1" stroke="#1a1808" stroke-width="1.7"/>
<path d="M659.8 621.8C662.1 620.5 670.1 619.8 677 619.4C683.8 619 694.1 618.4 701 619.4C707.9 620.3 717 623.1 718.2 625.2C719.3 627.3 712.5 630.1 707.9 632.1C703.3 634.1 696.4 636.9 690.7 637.2C685 637.5 678.1 635.5 673.5 633.8C669 632.1 665.5 628.9 663.2 626.9C661 624.9 657.5 623 659.8 621.8Z" stroke="#1a1808" stroke-width="1.7"/>
<path d="M821.2 415.8C821.2 418.9 820.6 428.6 821.2 434.6C821.8 440.6 821.8 446.7 824.6 451.8C827.5 457 832.6 461.5 838.3 465.5C844.1 469.5 852.1 473.4 858.9 475.8C865.8 478.2 873.9 479.1 879.5 480C885.2 480.8 890.4 480.8 892.6 481" stroke="#1a1808" stroke-width="1.7"/>
<path d="M892.6 507.4C888.1 507.3 874.9 507.1 865.8 506.7C856.8 506.3 846.9 506.2 838.3 505C829.8 503.9 821.8 503 814.3 499.9C806.9 496.7 799.4 491.9 793.7 486.1C788 480.4 782.8 473 780 465.5C777.1 458.1 776 449.5 776.5 441.5C777.1 433.5 780 424.3 783.4 417.5C786.8 410.6 791.4 404.9 797.1 400.3C802.9 395.7 813.7 391.7 817.7 390C821.8 388.3 820 394.3 821.2 390.1C822.3 385.9 824 368.9 824.6 364.7" stroke="#1a1808" stroke-width="1.7"/>
<path d="M892.6 420.9C891 421.5 885.4 422.3 883 424.3C880.5 426.3 877.8 430.1 877.8 432.9C877.8 435.8 880.5 439.5 883 441.5C885.4 443.5 891 444.4 892.6 444.9" stroke="#1a1808" stroke-width="1.7"/>
<path d="M877.8 432.9L892.6 432.9" stroke="#1a1808" stroke-width="1.7"/>
<path d="M512.2 680.1C515 679 520.8 674.6 529.3 673.3C537.9 671.9 546.5 672.5 563.7 672.2C580.8 671.9 612.3 671.9 632.3 671.5C652.4 671.1 669.5 670.7 683.8 669.8C698.1 669 706.7 667.5 718.2 666.4C729.6 665.3 741.1 663.8 752.5 663C764 662.1 778 661.6 786.8 661.2C795.7 660.8 802.6 660.7 805.7 660.6" stroke="#1a1808" stroke-width="1.7"/>
<path d="M852.1 661.2L892.6 661.2" stroke="#1a1808" stroke-width="1.7"/>
<path d="M852.1 668.1L892.6 668.1" stroke="#1a1808" stroke-width="1.7"/>
<path d="M100.2 493C103.9 492.7 116.2 492.1 122.5 491.3C128.8 490.4 135.3 488.4 137.9 487.9" stroke="#1a1808" stroke-width="1.7"/>
<path d="M196.3 483.4C202.3 482.4 221.8 479.1 232.3 477.6C242.9 476 252.9 474.7 259.8 474.1C266.7 473.5 269 472.7 273.5 474.1C278.1 475.6 283.6 478.4 287.3 482.7C291 487 293.6 492.4 295.9 499.9C298.1 507.3 299 519.9 301 527.3C303 534.8 305 539.4 307.9 544.5C310.7 549.7 314.7 554.8 318.2 558.2C321.6 561.7 325 564.2 328.5 565.1C331.9 566 335.3 566.3 338.8 563.4C342.2 560.5 346.5 555.1 349.1 547.9C351.7 540.8 353.7 529.1 354.2 520.5C354.8 511.9 354.5 500.4 352.5 496.4C350.5 492.4 345.6 497 342.2 496.4C338.8 495.9 335.3 496.4 331.9 493C328.5 489.6 324.2 482.7 321.6 475.8C319 469 317.7 460.4 316.5 451.8C315.2 443.2 313.8 432.3 314.1 424.3C314.3 416.3 317.5 407.2 318.2 403.7" stroke="#1a1808" stroke-width="1.7"/>
<path d="M100.2 527.3L115.6 522.2" stroke="#1a1808" stroke-width="1.7"/>
<path d="M168.8 515.3C172.5 515.7 184.6 516.6 191.1 517.7C197.7 518.9 202.9 520.8 208.3 522.2C213.7 523.6 218.6 526.3 223.8 526.3C228.9 526.3 233.8 524 239.2 522.2C244.6 520.4 251.8 516.2 256.4 515.3C261 514.5 263.8 515.3 266.7 517C269.5 518.8 271.8 521.6 273.5 525.6C275.3 529.6 277 535.6 277 541.1C277 546.5 275.8 553.1 273.5 558.2C271.3 563.4 267.8 568.5 263.2 572C258.7 575.4 254.1 577.1 246.1 578.8C238.1 580.6 226 581.9 215.2 582.3C204.3 582.7 192.3 581.7 180.8 581.2C169.4 580.8 159.9 580.2 146.5 579.5C133.1 578.8 107.9 577.5 100.2 577.1" stroke="#1a1808" stroke-width="1.7"/>
<path d="M100.2 596C105 595.9 118.7 594.9 129.3 595.3C139.9 595.8 152.2 597.2 163.7 598.8C175.1 600.3 186.6 602.5 198 604.6C209.4 606.7 223.8 609.5 232.3 611.5C240.9 613.5 244.4 614 249.5 616.6C254.7 619.2 259.8 623.5 263.2 626.9C266.7 630.3 269 635.5 270.1 637.2" stroke="#1a1808" stroke-width="1.7"/>
<path d="M100.2 623.5C103.9 624.2 114.7 625.9 122.5 627.6C130.2 629.3 138.5 631.7 146.5 633.8C154.5 635.8 163.1 638.2 170.5 640C178 641.7 184.6 643.3 191.1 644.1C197.7 644.9 206.9 644.6 210 644.8" stroke="#1a1808" stroke-width="1.7"/>
<path d="M281.8 595C281.8 597.4 281.6 600.1 281.4 602.2C281.1 604.3 280.7 606.3 280.2 607.5C279.8 608.7 279.2 609.4 278.7 609.4C278.2 609.4 277.6 608.7 277.1 607.5C276.7 606.3 276.3 604.3 276 602.2C275.8 600.1 275.6 597.4 275.6 595C275.6 592.6 275.8 589.8 276 587.8C276.3 585.7 276.7 583.7 277.1 582.5C277.6 581.3 278.2 580.6 278.7 580.6C279.2 580.6 279.8 581.3 280.2 582.5C280.7 583.7 281.1 585.7 281.4 587.8C281.6 589.8 281.8 592.6 281.8 595Z" stroke="#5a3a08" stroke-width="1.7"/>
<path d="M323.3 585.7C325.3 585.1 331.6 584.3 335.3 582.3C339.1 580.3 342.2 576.8 345.6 573.7C349.1 570.5 352.8 565.7 355.9 563.4C359.1 561.1 362.2 558.5 364.5 560C366.8 561.4 368.2 566.5 369.7 572C371.1 577.4 372 586.3 373.1 592.6C374.3 598.9 376 606.9 376.5 609.7" stroke="#1a1808" stroke-width="1.7"/>
<path d="M397.1 580.6C395.4 578.6 389.7 574.5 386.8 568.5C384 562.5 382 554.2 380 544.5C378 534.8 376 521.6 374.8 510.2C373.7 498.7 372.3 484.4 373.1 475.8C374 467.3 376 463.8 380 458.7C384 453.5 391.4 448.9 397.1 444.9C402.9 440.9 409.2 437.2 414.3 434.6C419.5 432.1 423.5 429.8 428 429.5C432.6 429.2 437.8 429.8 441.8 432.9C445.8 436.1 448.6 441.8 452.1 448.4C455.5 454.9 458.9 463.8 462.4 472.4C465.8 481 469.2 491.9 472.7 499.9C476.1 507.9 479.3 515.3 483 520.5C486.7 525.6 493 529.1 495 530.8" stroke="#1a1808" stroke-width="1.7"/>
<path d="M417.7 623.5C418.3 625.8 418.9 632.1 421.2 637.2C423.5 642.4 428 649.8 431.5 654.4C434.9 659 437.8 661.8 441.8 664.7C445.8 667.5 453.2 670.4 455.5 671.5" stroke="#1a1808" stroke-width="1.7"/>
<path d="M163.7 677.7C169.4 677.4 186.6 675.8 198 675.7C209.4 675.6 222 676.6 232.3 677C242.6 677.5 255.2 678.2 259.8 678.4" stroke="#1a1808" stroke-width="1.5"/>
</g>
<g filter="url(#bt)">
<text class="lab" x="144.1" y="155" font-size="28" text-anchor="middle" fill="#4a4400" fill-opacity="0.6" transform="rotate(0 144.1 144.9)">30</text>
<text class="lab" x="144.1" y="171.5" font-size="28" text-anchor="middle" fill="#4a4400" fill-opacity="0.6" transform="rotate(0 144.1 161.4)">40</text>
<text class="lab" x="143.1" y="197.9" font-size="28" text-anchor="middle" fill="#4a4400" fill-opacity="0.6" transform="rotate(0 143.1 187.9)">50</text>
<text class="lab" x="154.1" y="243.6" font-size="28" text-anchor="middle" fill="#4a4400" fill-opacity="0.6" transform="rotate(-5 154.1 233.5)">60</text>
<text class="lab" x="707.9" y="162.6" font-size="28" text-anchor="middle" fill="#4a4400" fill-opacity="0.6" transform="rotate(0 707.9 152.5)">30</text>
<text class="lab" x="713" y="178.4" font-size="28" text-anchor="middle" fill="#4a4400" fill-opacity="0.6" transform="rotate(0 713 168.3)">40</text>
<text class="lab" x="707.9" y="199.7" font-size="28" text-anchor="middle" fill="#4a4400" fill-opacity="0.6" transform="rotate(0 707.9 189.6)">50</text>
<text class="lab" x="624.4" y="227.1" font-size="28" text-anchor="middle" fill="#4a4400" fill-opacity="0.6" transform="rotate(0 624.4 217)">60</text>
<text class="lab" x="536.9" y="349" font-size="28" text-anchor="middle" fill="#4a4400" fill-opacity="0.6" transform="rotate(35 536.9 338.9)">70</text>
<text class="lab" x="833.2" y="363.8" font-size="28" text-anchor="middle" fill="#4a4400" fill-opacity="0.6" transform="rotate(-35 833.2 353.7)">70</text>
<text class="lab" x="850.4" y="407.6" font-size="28" text-anchor="middle" fill="#4a4400" fill-opacity="0.6" transform="rotate(-5 850.4 397.6)">60</text>
<text class="lab" x="342.2" y="396" font-size="28" text-anchor="middle" fill="#4a4400" fill-opacity="0.6" transform="rotate(0 342.2 386)">80</text>
<text class="lab" x="154.1" y="442" font-size="28" text-anchor="middle" fill="#4a4400" fill-opacity="0.6" transform="rotate(-25 154.1 431.9)">70</text>
<text class="lab" x="165.4" y="491.1" font-size="28" text-anchor="middle" fill="#4a4400" fill-opacity="0.6" transform="rotate(-3 165.4 481)">80</text>
<text class="lab" x="140.3" y="523" font-size="28" text-anchor="middle" fill="#4a4400" fill-opacity="0.6" transform="rotate(-3 140.3 512.9)">90</text>
<text class="lab" x="240.9" y="652.4" font-size="28" text-anchor="middle" fill="#4a4400" fill-opacity="0.6" transform="rotate(30 240.9 642.4)">70</text>
<text class="lab" x="298.3" y="595.1" font-size="28" text-anchor="middle" fill="#4a4400" fill-opacity="0.6" transform="rotate(-20 298.3 585)">90</text>
<text class="lab" x="424.6" y="606.8" font-size="28" text-anchor="middle" fill="#4a4400" fill-opacity="0.6" transform="rotate(70 424.6 596.7)">90</text>
<text class="lab" x="401.6" y="665.1" font-size="28" text-anchor="middle" fill="#4a4400" fill-opacity="0.6" transform="rotate(50 401.6 655.1)">80</text>
<text class="lab" x="648.8" y="493.5" font-size="28" text-anchor="middle" fill="#4a4400" fill-opacity="0.6" transform="rotate(-15 648.8 483.4)">60</text>
<text class="lab" x="720.6" y="524.4" font-size="28" text-anchor="middle" fill="#4a4400" fill-opacity="0.6" transform="rotate(75 720.6 514.3)">70</text>
<text class="lab" x="690.7" y="580.3" font-size="28" text-anchor="middle" fill="#4a4400" fill-opacity="0.6" transform="rotate(0 690.7 570.3)">80</text>
<text class="lab" x="586" y="604.4" font-size="28" text-anchor="middle" fill="#4a4400" fill-opacity="0.6" transform="rotate(0 586 594.3)">90</text>
<text class="lab" x="825.3" y="662.7" font-size="28" text-anchor="middle" fill="#4a4400" fill-opacity="0.6" transform="rotate(0 825.3 652.7)">90</text>
<text class="lab" x="835.6" y="674.8" font-size="28" text-anchor="middle" fill="#4a4400" fill-opacity="0.6" transform="rotate(0 835.6 664.7)">80</text>
</g>
<g filter="url(#bl)">
<path d="M262.6 680.4C263.5 679.1 266.9 675.2 268.3 672.4C269.7 669.5 270.1 666.3 271.2 663.2C272.2 660.2 273.8 657.3 274.6 654.1C275.4 650.8 275.2 646.6 275.7 643.8C276.3 640.9 276.8 638.5 278 636.9C279.3 635.3 281.6 634.1 283.2 634.1C284.8 634.1 286 635.7 287.8 636.9C289.5 638.2 291.4 640.3 293.5 641.5C295.6 642.6 298.1 642.8 300.3 643.8C302.6 644.7 305.1 646.8 307.2 647.2C309.3 647.6 311.4 647 312.9 646.1C314.5 645.1 315.3 643.4 316.4 641.5C317.4 639.6 318.5 637.1 319.2 634.6C320 632.1 319.9 628.9 320.9 626.6C322 624.3 323.6 622.3 325.5 620.9C327.4 619.5 330.3 619.1 332.4 618C334.5 617 335.6 615.4 338.1 614.6C340.6 613.8 344.4 613.6 347.3 613.5C350.1 613.4 353 613.4 355.3 614C357.6 614.7 359.1 616.1 361 617.5C362.9 618.8 365 620.5 366.7 622C368.4 623.6 369.9 624.7 371.3 626.6C372.6 628.5 373.6 631.4 374.7 633.5C375.9 635.6 377.2 637.1 378.1 639.2C379.1 641.3 379.5 644 380.4 646.1C381.4 648.2 382.7 649.9 383.9 651.8C385 653.7 386 655.4 387.3 657.5C388.6 659.6 390.2 662.3 391.9 664.4C393.6 666.5 395.5 668.6 397.6 670.1C399.7 671.6 402.2 672.6 404.5 673.5C406.8 674.5 409.2 675 411.3 675.8C413.4 676.7 416.1 678.2 417 678.7L427 690L256.6 690Z" fill="#000"/>
<path d="M262.6 680.4C263.5 679.1 266.9 675.2 268.3 672.4C269.7 669.5 270.1 666.3 271.2 663.2C272.2 660.2 273.8 657.3 274.6 654.1C275.4 650.8 275.2 646.6 275.7 643.8C276.3 640.9 276.8 638.5 278 636.9C279.3 635.3 281.6 634.1 283.2 634.1C284.8 634.1 286 635.7 287.8 636.9C289.5 638.2 291.4 640.3 293.5 641.5C295.6 642.6 298.1 642.8 300.3 643.8C302.6 644.7 305.1 646.8 307.2 647.2C309.3 647.6 311.4 647 312.9 646.1C314.5 645.1 315.3 643.4 316.4 641.5C317.4 639.6 318.5 637.1 319.2 634.6C320 632.1 319.9 628.9 320.9 626.6C322 624.3 323.6 622.3 325.5 620.9C327.4 619.5 330.3 619.1 332.4 618C334.5 617 335.6 615.4 338.1 614.6C340.6 613.8 344.4 613.6 347.3 613.5C350.1 613.4 353 613.4 355.3 614C357.6 614.7 359.1 616.1 361 617.5C362.9 618.8 365 620.5 366.7 622C368.4 623.6 369.9 624.7 371.3 626.6C372.6 628.5 373.6 631.4 374.7 633.5C375.9 635.6 377.2 637.1 378.1 639.2C379.1 641.3 379.5 644 380.4 646.1C381.4 648.2 382.7 649.9 383.9 651.8C385 653.7 386 655.4 387.3 657.5C388.6 659.6 390.2 662.3 391.9 664.4C393.6 666.5 395.5 668.6 397.6 670.1C399.7 671.6 402.2 672.6 404.5 673.5C406.8 674.5 409.2 675 411.3 675.8C413.4 676.7 416.1 678.2 417 678.7" fill="none" stroke="#fff" stroke-width="2.5" stroke-linejoin="round" stroke-linecap="round"/>
<path d="M417 678h14" fill="none" stroke="#ddd" stroke-width="2.5"/>
</g>
</g>
<g filter="url(#bl)" stroke="#151505" fill="none">
<rect x="100.5" y="97.5" width="792.5" height="582.5" stroke-width="2.1" stroke-opacity="0.85"/>
<path d="M116.3 97.5v6.5M116.3 680.0v-6.5M132.2 97.5v6.5M132.2 680.0v-6.5M148.1 97.5v6.5M148.1 680.0v-6.5M163.9 97.5v6.5M163.9 680.0v-6.5M179.8 97.5v6.5M179.8 680.0v-6.5M195.6 97.5v6.5M195.6 680.0v-6.5M211.4 97.5v6.5M211.4 680.0v-6.5M227.3 97.5v6.5M227.3 680.0v-6.5M243.2 97.5v6.5M243.2 680.0v-6.5M259 97.5v13M259 680.0v-13M274.9 97.5v6.5M274.9 680.0v-6.5M290.7 97.5v6.5M290.7 680.0v-6.5M306.5 97.5v6.5M306.5 680.0v-6.5M322.4 97.5v6.5M322.4 680.0v-6.5M338.2 97.5v6.5M338.2 680.0v-6.5M354.1 97.5v6.5M354.1 680.0v-6.5M369.9 97.5v6.5M369.9 680.0v-6.5M385.8 97.5v6.5M385.8 680.0v-6.5M401.6 97.5v6.5M401.6 680.0v-6.5M417.5 97.5v13M417.5 680.0v-13M433.3 97.5v6.5M433.3 680.0v-6.5M449.2 97.5v6.5M449.2 680.0v-6.5M465.1 97.5v6.5M465.1 680.0v-6.5M480.9 97.5v6.5M480.9 680.0v-6.5M496.8 97.5v6.5M496.8 680.0v-6.5M512.6 97.5v6.5M512.6 680.0v-6.5M528.5 97.5v6.5M528.5 680.0v-6.5M544.3 97.5v6.5M544.3 680.0v-6.5M560.1 97.5v6.5M560.1 680.0v-6.5M576 97.5v13M576 680.0v-13M591.8 97.5v6.5M591.8 680.0v-6.5M607.7 97.5v6.5M607.7 680.0v-6.5M623.5 97.5v6.5M623.5 680.0v-6.5M639.4 97.5v6.5M639.4 680.0v-6.5M655.2 97.5v6.5M655.2 680.0v-6.5M671.1 97.5v6.5M671.1 680.0v-6.5M686.9 97.5v6.5M686.9 680.0v-6.5M702.8 97.5v6.5M702.8 680.0v-6.5M718.6 97.5v6.5M718.6 680.0v-6.5M734.5 97.5v13M734.5 680.0v-13M750.4 97.5v6.5M750.4 680.0v-6.5M766.2 97.5v6.5M766.2 680.0v-6.5M782 97.5v6.5M782 680.0v-6.5M797.9 97.5v6.5M797.9 680.0v-6.5M813.8 97.5v6.5M813.8 680.0v-6.5M829.6 97.5v6.5M829.6 680.0v-6.5M845.4 97.5v6.5M845.4 680.0v-6.5M861.3 97.5v6.5M861.3 680.0v-6.5M877.1 97.5v6.5M877.1 680.0v-6.5M100.5 659.2h7.5M893.0 659.2h-7.5M100.5 638.5h7.5M893.0 638.5h-7.5M100.5 617.8h7.5M893.0 617.8h-7.5M100.5 597h15M893.0 597h-15M100.5 576.2h7.5M893.0 576.2h-7.5M100.5 555.5h7.5M893.0 555.5h-7.5M100.5 534.8h7.5M893.0 534.8h-7.5M100.5 514h15M893.0 514h-15M100.5 493.2h7.5M893.0 493.2h-7.5M100.5 472.5h7.5M893.0 472.5h-7.5M100.5 451.8h7.5M893.0 451.8h-7.5M100.5 431h15M893.0 431h-15M100.5 410.2h7.5M893.0 410.2h-7.5M100.5 389.5h7.5M893.0 389.5h-7.5M100.5 368.8h7.5M893.0 368.8h-7.5M100.5 348h15M893.0 348h-15M100.5 327.2h7.5M893.0 327.2h-7.5M100.5 306.5h7.5M893.0 306.5h-7.5M100.5 285.8h7.5M893.0 285.8h-7.5M100.5 265h15M893.0 265h-15M100.5 244.2h7.5M893.0 244.2h-7.5M100.5 223.5h7.5M893.0 223.5h-7.5M100.5 202.8h7.5M893.0 202.8h-7.5M100.5 182h15M893.0 182h-15M100.5 161.2h7.5M893.0 161.2h-7.5M100.5 140.5h7.5M893.0 140.5h-7.5M100.5 119.8h7.5M893.0 119.8h-7.5M100.5 99h15M893.0 99h-15" stroke-width="1.8" stroke-opacity="0.72"/>
</g>
<g clip-path="url(#cr)">
<rect x="1353.5" y="95.5" width="796.0" height="586.5" fill="#E6E010"/>
<g filter="url(#bf)">
<path d="M1350 72C1212.8 110.7 1330 265.5 1330 304.2C1330 343 1335.2 303.8 1350 304.2C1364.8 304.7 1395.8 306.1 1418.7 307C1441.6 307.9 1464.4 309.7 1487.3 309.7C1510.2 309.7 1533.1 308.1 1556 307C1578.9 305.9 1604.1 302.9 1624.7 302.9C1645.3 302.9 1663 304.7 1679.6 307C1696.2 309.3 1713.4 310.4 1724.2 316.6C1735.1 322.8 1740.3 332.6 1744.8 344.1C1749.4 355.5 1748.9 372.7 1751.7 385.3C1754.6 397.9 1757.4 411.9 1762 419.6C1766.6 427.3 1772.9 431.3 1779.2 431.3C1785.5 431.3 1793.5 426.1 1799.8 419.6C1806.1 413.1 1811.8 403 1817 392.1C1822.1 381.3 1825 364.7 1830.7 354.4C1836.4 344.1 1842.1 336.6 1851.3 330.3C1860.4 324 1871.9 320.3 1885.6 316.6C1899.4 312.9 1914.2 311.1 1933.7 308.4C1953.1 305.6 1979.5 302.2 2002.4 300.1C2025.3 298.1 2046.4 297.2 2071 296C2095.6 294.9 2133 293.7 2150 293.3C2167 292.8 2172.5 330.1 2173 293.3C2173.5 256.4 2290.2 108.9 2153 72C2015.8 35.1 1487.2 33.3 1350 72Z" fill="#EEC206"/>
<path d="M1350 72C1212.8 104.8 1331.7 236.2 1330 269C1328.3 301.8 1303.3 269 1340 269C1376.7 269 1481.7 269 1550 269C1618.3 269 1683.3 269.4 1750 269C1816.7 268.6 1881.7 267.3 1950 266.5C2018.3 265.7 2122.8 264.4 2160 264C2197.2 263.6 2174.2 296 2173 264C2171.8 232 2290.2 104 2153 72C2015.8 40 1487.2 39.2 1350 72Z" fill="#EBA608"/>
<path d="M1350 72C1212.8 102 1331.7 222 1330 252C1328.3 282 1303.3 252 1340 252C1376.7 252 1481.7 252 1550 252C1618.3 252 1683.3 252.3 1750 252C1816.7 251.7 1881.7 250.7 1950 250C2018.3 249.3 2122.8 248.3 2160 248C2197.2 247.7 2174.2 277.3 2173 248C2171.8 218.7 2290.2 101.3 2153 72C2015.8 42.7 1487.2 42 1350 72Z" fill="#E88A08"/>
<path d="M1350 72C1212.8 99.8 1331.7 211.2 1330 239C1328.3 266.8 1303.3 239 1340 239C1376.7 239 1481.7 239 1550 239C1618.3 239 1683.3 239.2 1750 239C1816.7 238.8 1881.7 238 1950 237.5C2018.3 237 2122.8 236.2 2160 236C2197.2 235.8 2174.2 263.3 2173 236C2171.8 208.7 2290.2 99.3 2153 72C2015.8 44.7 1487.2 44.2 1350 72Z" fill="#E67206"/>
<path d="M1350 72C1212.8 98 1331.7 202 1330 228C1328.3 254 1303.3 228 1340 228C1376.7 228 1481.7 228 1550 228C1618.3 228 1683.3 228.2 1750 228C1816.7 227.8 1881.7 227 1950 226.5C2018.3 226 2122.8 225.2 2160 225C2197.2 224.8 2174.2 250.5 2173 225C2171.8 199.5 2290.2 97.5 2153 72C2015.8 46.5 1487.2 46 1350 72Z" fill="#E45A04"/>
<path d="M1350 72C1212.8 96.3 1331.7 193.7 1330 218C1328.3 242.3 1303.3 218 1340 218C1376.7 218 1481.7 218 1550 218C1618.3 218 1683.3 218.2 1750 218C1816.7 217.8 1881.7 217.3 1950 217C2018.3 216.7 2122.8 216.2 2160 216C2197.2 215.8 2174.2 240 2173 216C2171.8 192 2290.2 96 2153 72C2015.8 48 1487.2 47.7 1350 72Z" fill="#E24402"/>
<path d="M1350 72C1212.8 94.8 1331.7 186.2 1330 209C1328.3 231.8 1303.3 209 1340 209C1376.7 209 1481.7 209 1550 209C1618.3 209 1683.3 209.1 1750 209C1816.7 208.9 1881.7 208.5 1950 208.2C2018.3 208 2122.8 207.6 2160 207.5C2197.2 207.4 2174.2 230.1 2173 207.5C2171.8 184.9 2290.2 94.6 2153 72C2015.8 49.4 1487.2 49.2 1350 72Z" fill="#E03000"/>
<path d="M1350 72C1212.8 93.3 1331.7 178.7 1330 200C1328.3 221.3 1303.3 200 1340 200C1376.7 200 1481.7 200 1550 200C1618.3 200 1683.3 200.1 1750 200C1816.7 199.9 1881.7 199.7 1950 199.5C2018.3 199.3 2122.8 199.1 2160 199C2197.2 198.9 2174.2 220.2 2173 199C2171.8 177.8 2290.2 93.2 2153 72C2015.8 50.8 1487.2 50.7 1350 72Z" fill="#DE1C00"/>
<path d="M1350 72C1212.8 91.8 1331.7 171.2 1330 191C1328.3 210.8 1303.3 191 1340 191C1376.7 191 1481.7 191.2 1550 191.2C1618.3 191.3 1683.3 191.3 1750 191.5C1816.7 191.7 1881.7 192 1950 192.2C2018.3 192.5 2122.8 192.9 2160 193C2197.2 193.1 2174.2 213.2 2173 193C2171.8 172.8 2290.2 92.2 2153 72C2015.8 51.8 1487.2 52.2 1350 72Z" fill="#DC0000"/>
<path d="M1200 371C1223.3 299.7 1305.3 368.8 1340 372C1374.7 375.2 1389.5 385.3 1408.4 390C1427.2 394.7 1439.8 396.9 1453 400.3C1466.2 403.7 1475.9 407.2 1487.3 410.6C1498.8 414 1510.2 418.9 1521.7 420.9C1533.1 422.9 1542.8 422 1556 422.6C1569.2 423.2 1586.3 422.3 1600.6 424.3C1614.9 426.3 1629.3 431.8 1641.8 434.6C1654.4 437.5 1667.6 438.6 1676.2 441.5C1684.8 444.4 1689.3 446.1 1693.3 451.8C1697.4 457.5 1698.5 467.3 1700.2 475.8C1701.9 484.4 1702.5 493.6 1703.6 503.3C1704.8 513 1705.4 526.8 1707.1 534.2C1708.8 541.6 1710.5 543.4 1713.9 547.9C1717.4 552.5 1721.7 557.1 1727.7 561.7C1733.7 566.3 1734.8 572.8 1750 575.4C1765.2 578 1795.8 576.8 1818.7 577.1C1841.6 577.4 1869 578.6 1887.3 577.1C1905.7 575.7 1925.7 575.1 1928.5 568.5C1931.4 562 1911.4 545.7 1904.5 537.6C1897.6 529.6 1895.9 527.9 1887.3 520.5C1878.8 513 1850.1 503.9 1853 493C1855.9 482.1 1881.6 463.8 1904.5 455.2C1927.4 446.7 1964.6 447.8 1990.3 441.5C2016.1 435.2 2039 425.5 2059 417.5C2079 409.5 2099 399.3 2110.5 393.4C2122 387.5 2118.9 386.2 2128 382C2137.1 377.8 2136.3 370.7 2165 368C2193.7 365.3 2277.5 294 2300 366C2322.5 438 2483.3 727.7 2300 800C2116.7 872.3 1383.3 871.5 1200 800C1016.7 728.5 1176.7 442.3 1200 371Z" fill="#A0E10A"/>
<path d="M1212.7 458.7C1235.9 402.1 1311.1 459.5 1339.7 460.4C1368.3 461.2 1371.2 461.8 1384.3 463.8C1397.5 465.8 1407.2 470.1 1418.7 472.4C1430.1 474.7 1441.6 475.3 1453 477.6C1464.4 479.8 1475.9 483.8 1487.3 486.1C1498.8 488.4 1510.2 489.6 1521.7 491.3C1533.1 493 1544.6 494.4 1556 496.4C1567.5 498.4 1578.9 500.4 1590.3 503.3C1601.8 506.2 1613.2 509.6 1624.7 513.6C1636.1 517.6 1647.6 522.2 1659 527.3C1670.5 532.5 1684.2 539.4 1693.3 544.5C1702.5 549.7 1708.2 554.2 1713.9 558.2C1719.7 562.2 1721.7 564.5 1727.7 568.5C1733.7 572.5 1744.6 579.1 1750 582.3C1755.4 585.4 1756.3 585.1 1760.3 587.4C1764.3 589.7 1770.9 588.9 1774 596C1777.2 603.2 1779.2 619.5 1779.2 630.3C1779.2 641.2 1775.5 651.5 1774 661.2C1772.6 671 1771.2 665.3 1770.6 688.7C1770 712.2 1865.7 783.5 1770.6 802C1675.5 820.6 1293 857.2 1200 800C1107 742.8 1189.4 515.3 1212.7 458.7Z" fill="#64DC0F"/>
<path d="M2158.6 446.7C2153.4 418.9 2138.6 448.7 2127.7 450.1C2116.8 451.5 2104.8 450.9 2093.3 455.2C2081.9 459.5 2068.7 469.5 2059 475.8C2049.3 482.1 2040.7 486.1 2035 493C2029.3 499.9 2027.5 509 2024.7 517C2021.8 525.1 2023.5 535.4 2017.8 541.1C2012.1 546.8 1999.5 547.4 1990.3 551.4C1981.2 555.4 1972 559.4 1962.9 565.1C1953.7 570.8 1943.4 580 1935.4 585.7C1927.4 591.4 1918.8 594.3 1914.8 599.4C1910.8 604.6 1910.2 611.2 1911.4 616.6C1912.5 622 1914.2 628.1 1921.7 632.1C1929.1 636.1 1941.7 639.7 1956 640.6C1970.3 641.6 1990.3 639.9 2007.5 637.9C2024.7 635.9 2044.7 631.3 2059 628.6C2073.3 625.9 2081.9 623.5 2093.3 621.8C2104.8 620 2116.8 619.2 2127.7 618.3C2138.6 617.5 2153.4 645.2 2158.6 616.6C2163.7 588 2163.7 474.4 2158.6 446.7Z" fill="#64DC0F"/>
<path d="M1343.1 532.5C1347.7 524.6 1362 533.2 1370.6 534.9C1379.2 536.6 1387.8 540 1394.6 542.8C1401.5 545.5 1402.1 548.2 1411.8 551.4C1421.5 554.5 1439.3 558.8 1453 561.7C1466.7 564.5 1481.6 566 1494.2 568.5C1506.8 571.1 1518.2 573.7 1528.5 577.1C1538.8 580.6 1553.7 583.7 1556 589.1C1558.3 594.6 1546.9 603.4 1542.3 609.7C1537.7 616 1533.7 623.5 1528.5 626.9C1523.4 630.3 1518.2 633.2 1511.4 630.3C1504.5 627.5 1497.1 615.5 1487.3 609.7C1477.6 604 1464.4 598.9 1453 596C1441.6 593.1 1430.1 594.9 1418.7 592.6C1407.2 590.3 1396.9 584 1384.3 582.3C1371.7 580.6 1350 590.6 1343.1 582.3C1336.3 574 1338.6 540.4 1343.1 532.5Z" fill="#5AD010"/>
<path d="M1343.1 596C1350 586.9 1368.9 598.3 1384.3 599.4C1399.8 600.6 1421.5 600.6 1435.8 602.9C1450.1 605.2 1458.7 607.5 1470.2 613.2C1481.6 618.9 1497.1 629.2 1504.5 637.2C1511.9 645.2 1517.7 656.7 1514.8 661.2C1511.9 665.8 1497.6 664.7 1487.3 664.7C1477 664.7 1464.4 663 1453 661.2C1441.6 659.5 1430.1 654.9 1418.7 654.4C1407.2 653.8 1396.9 657.8 1384.3 657.8C1371.7 657.8 1350 664.7 1343.1 654.4C1336.3 644.1 1336.3 605.2 1343.1 596Z" fill="#58CC12"/>
<path d="M1638.4 609.7C1641.3 607.5 1651 613.2 1659 616.6C1667 620 1677.9 625.8 1686.5 630.3C1695.1 634.9 1704.8 639.5 1710.5 644.1C1716.2 648.7 1721.4 653.8 1720.8 657.8C1720.2 661.8 1713.9 667.5 1707.1 668.1C1700.2 668.7 1687.6 664.7 1679.6 661.2C1671.6 657.8 1665.3 652.7 1659 647.5C1652.7 642.4 1645.3 636.6 1641.8 630.3C1638.4 624 1635.6 612 1638.4 609.7Z" fill="#50C414"/>
<path d="M1775.8 692.1C1711.5 687 1771.9 668.4 1773.3 661.2C1774.8 654.1 1776.8 651.8 1784.3 649.2C1791.9 646.7 1807.2 646.2 1818.7 645.8C1830.1 645.4 1841.6 646.1 1853 646.8C1864.4 647.6 1877.6 648.1 1887.3 650.3C1897.1 652.4 1904.5 657.1 1911.4 659.5C1918.2 661.9 1920 663.8 1928.5 664.7C1937.1 665.5 1952.6 665.1 1962.9 664.7C1973.2 664.2 1980 663.1 1990.3 661.9C2000.6 660.8 2013.2 659.2 2024.7 657.8C2036.1 656.4 2047.6 655.1 2059 653.7C2070.5 652.3 2081.9 650.8 2093.3 649.2C2104.8 647.6 2116.8 645.8 2127.7 644.1C2138.6 642.4 2153.4 630.9 2158.6 638.9C2163.7 646.9 2222.4 683.3 2158.6 692.1C2094.8 701 1840 697.3 1775.8 692.1Z" fill="#E6E010"/>
<path d="M1779.2 692.1C1769.2 687.6 1778.8 671.3 1780.2 664.7C1781.6 658.1 1783.6 655.2 1787.8 652.7C1791.9 650.1 1798.6 649.2 1804.9 649.2C1811.2 649.2 1820.4 650.1 1825.5 652.7C1830.7 655.2 1833.4 658.1 1835.8 664.7C1838.2 671.3 1849.4 687.6 1840 692.1C1830.5 696.7 1789.1 696.7 1779.2 692.1Z" fill="#EEC206"/>
<path d="M1343.1 657.8C1347.7 653.2 1360.9 660.1 1370.6 661.2C1380.3 662.4 1387.8 663.2 1401.5 664.7C1415.2 666.1 1437.6 668.7 1453 669.8C1468.5 671 1483.9 670.7 1494.2 671.5C1504.5 672.4 1510.2 672.1 1514.8 675C1519.4 677.8 1550.3 686.4 1521.7 688.7C1493.1 691 1372.9 693.9 1343.1 688.7C1313.4 683.6 1338.6 662.4 1343.1 657.8Z" fill="#A0E10A"/>
<path d="M1532 650.9C1531.1 640.4 1529.8 640 1529.9 635.5C1530 631 1530.6 625.5 1532.7 624.2C1534.7 622.8 1538.4 625.3 1542.3 627.6C1546.2 629.9 1551.7 637 1556 637.9C1560.3 638.8 1564.9 636.8 1568 633.1C1571.2 629.4 1571.2 620.6 1574.9 615.9C1578.6 611.3 1584.3 607.9 1590.3 605.3C1596.4 602.6 1604.8 599.4 1610.9 600.1C1617.1 600.9 1622.8 605.3 1627.4 609.7C1632 614.2 1634.9 621.2 1638.4 626.9C1642 632.6 1644.7 638.9 1648.7 644.1C1652.7 649.2 1657.3 653.9 1662.4 657.8C1667.6 661.7 1671.6 664.6 1679.6 667.4C1687.6 670.3 1702.5 673.1 1710.5 675C1718.5 676.8 1724.8 674.4 1727.7 678.4C1730.5 682.4 1759.7 695.6 1727.7 699C1695.6 702.4 1568 707 1535.4 699C1502.8 691 1532.9 661.5 1532 650.9Z" fill="#0A46D2"/>
<path d="M1724 578.1C1725.3 576.3 1731.5 575.1 1735.2 578.1C1738.9 581.1 1743.4 589.3 1746.4 596C1749.3 602.7 1751 610.5 1753 618.3C1755.1 626.1 1756.8 635 1758.6 642.8C1760.5 650.6 1762.3 658.1 1764.2 665.1C1766.1 672.2 1772.2 681.9 1769.8 685.2C1767.4 688.6 1753.3 690.1 1749.7 685.2C1746.1 680.4 1749 666.3 1747.9 656.2C1746.9 646.2 1745.4 633.9 1743.4 625C1741.5 616.1 1739 608.6 1736.3 602.7C1733.6 596.7 1729.4 593.4 1727.4 589.3C1725.3 585.2 1722.7 580 1724 578.1Z" fill="#3A7ACC"/>
</g>
<g filter="url(#bl)" fill="none" stroke-linejoin="round" stroke-linecap="round">
<path d="M1355.2 109.9C1357.7 110.6 1365.7 111.6 1370.6 114C1375.5 116.4 1380.3 119.8 1384.3 124.3C1388.3 128.9 1391.5 135.8 1394.6 141.5C1397.8 147.2 1400.6 154.5 1403.2 158.7C1405.8 162.8 1410.4 163.6 1410.1 166.2C1409.8 168.8 1402.9 172.8 1401.5 174.1" stroke="#4A34B4" stroke-width="1.7"/>
<path d="M1375.8 189.6C1373.7 191.3 1367.2 196.4 1363.7 199.9C1360.3 203.3 1356.6 208.5 1355.2 210.2" stroke="#4A34B4" stroke-width="1.7"/>
<path d="M1420.4 96.9C1425.3 99.2 1441 106.6 1449.6 110.6C1458.2 114.6 1467.2 117.2 1471.9 120.9C1476.6 124.6 1476.6 124.9 1477.7 132.9C1478.9 140.9 1481.2 161.4 1478.8 169C1476.4 176.6 1470.5 174.6 1463.3 178.6C1456.2 182.6 1443.3 188.3 1435.8 193C1428.4 197.7 1425 201.7 1418.7 206.7C1412.4 211.8 1401.5 220.5 1398.1 223.2" stroke="#4A34B4" stroke-width="1.7"/>
<path d="M1370.6 241.1L1355.2 253.1" stroke="#4A34B4" stroke-width="1.7"/>
<path d="M1449.6 246.9C1451.6 244.7 1458.2 236.3 1461.6 233.5C1465 230.7 1467.6 232 1470.2 230.1C1472.7 228.2 1474.2 224.9 1477 222.2C1479.9 219.4 1483.3 215.5 1487.3 213.6C1491.3 211.7 1497.1 210.9 1501.1 210.9C1505.1 210.9 1509.7 210.9 1511.4 213.6C1513.1 216.4 1512.2 221 1511.4 227.3C1510.5 233.6 1508.5 243.9 1506.2 251.4C1503.9 258.8 1500.8 265.7 1497.6 272C1494.5 278.3 1490.8 283.7 1487.3 289.1C1483.9 294.6 1480.5 300.9 1477 304.6C1473.6 308.3 1471.9 309.7 1466.7 311.5C1461.6 313.2 1452.4 314.7 1446.1 314.9C1439.8 315.1 1433.5 313.8 1429 312.5C1424.4 311.2 1420.1 309.7 1418.7 307C1417.2 304.2 1419.5 299.8 1420.4 296C1421.2 292.2 1423.2 286 1423.8 284" stroke="#4A34B4" stroke-width="1.7"/>
<path d="M1593.8 261.7C1595.5 261.1 1600.6 258 1604.1 258.2C1607.5 258.5 1611.5 259.4 1614.4 263.4C1617.2 267.4 1619 276.8 1621.2 282.3C1623.5 287.7 1625.3 293 1628.1 296C1631 299 1635 300.8 1638.4 300.1C1641.8 299.4 1644.7 294.3 1648.7 291.9C1652.7 289.5 1657.9 286.2 1662.4 285.7C1667 285.3 1671.6 286.9 1676.2 289.1C1680.8 291.4 1685.9 296 1689.9 299.4C1693.9 302.9 1697.4 305.7 1700.2 309.7C1703.1 313.7 1704.8 317.8 1707.1 323.5C1709.4 329.2 1711.1 337.2 1713.9 344.1C1716.8 350.9 1720.5 357.8 1724.2 364.7C1728 371.5 1731.6 378.9 1736.3 385.3C1740.9 391.7 1746.8 396.5 1752 403C1757.2 409.5 1764.4 415.1 1767.2 424.3C1770 433.6 1768 447.2 1768.9 458.7C1769.7 470.1 1770.3 482.7 1772.3 493C1774.3 503.3 1778.3 511.9 1780.9 520.5C1783.5 529.1 1786.3 535.4 1787.8 544.5C1789.2 553.7 1789.5 564.5 1789.5 575.4C1789.5 586.3 1788.3 600.6 1787.8 609.7C1787.2 618.9 1786.3 626.9 1786.1 630.3" stroke="#3C3CB0" stroke-width="1.7"/>
<path d="M1566.3 306.3C1565.7 309.2 1564.6 317.8 1562.9 323.5C1561.2 329.2 1558 335.4 1556 340.6C1554 345.9 1553.1 352.2 1550.9 355.1C1548.6 357.9 1545.4 357 1542.3 357.8C1539.1 358.6 1535.4 358.2 1532 359.9C1528.5 361.6 1526.3 364.4 1521.7 368.1C1517.1 371.8 1510.2 378.3 1504.5 381.8C1498.8 385.4 1494.5 386.9 1487.3 389.4C1480.2 391.9 1469.6 394.7 1461.6 396.7C1453.6 398.7 1446.7 399.9 1439.3 401.2C1431.8 402.5 1424.4 403.9 1417 404.5C1409.5 405.1 1402.1 405.1 1394.6 404.5C1387.2 403.9 1379.2 402.5 1372.3 401.2C1365.4 399.9 1356.5 397.4 1353.3 396.7" stroke="#3450B8" stroke-width="1.7"/>
<path d="M1545.7 96.9C1548.6 99.2 1555.4 106 1562.9 110.6C1570.3 115.2 1580 119.8 1590.3 124.3C1600.6 128.9 1616.1 134.6 1624.7 138.1C1633.3 141.5 1633.3 143.5 1641.8 144.9C1650.4 146.4 1664.7 145.5 1676.2 146.7C1687.6 147.8 1698.2 149.5 1710.5 151.8C1722.8 154.1 1741.7 158.7 1750 160.4C1758.3 162.1 1756.6 161.1 1760.3 162.1C1764 163.1 1769.7 163.9 1772.3 166.2C1774.9 168.5 1775.5 169.7 1776.1 175.8C1776.7 182 1776.4 195.6 1776.1 203.3C1775.8 211 1774.4 219 1774 222.2" stroke="#4A34B4" stroke-width="1.7"/>
<path d="M1686.5 96.9C1690.5 98 1699.9 100.9 1710.5 103.7C1721.1 106.6 1737.7 110 1750 114C1762.3 118 1772.9 123.2 1784.3 127.8C1795.8 132.3 1808.9 136.9 1818.7 141.5C1828.4 146.1 1836.7 151.1 1842.7 155.2C1848.7 159.4 1852.3 162.2 1854.7 166.2C1857.1 170.2 1857.4 174.2 1857.1 179.3C1856.8 184.3 1853.7 193.6 1853 196.4" stroke="#4A34B4" stroke-width="1.7"/>
<path d="M1843.4 237.6C1842.5 241.6 1839.2 254.2 1837.9 261.7C1836.6 269.1 1836.5 275.4 1835.8 282.3C1835.2 289.1 1835.3 296 1834.1 302.9C1833 309.7 1831.5 315.5 1829 323.5C1826.4 331.5 1823.2 339.9 1818.7 350.9C1814.1 362 1804.5 377.8 1801.5 390C1798.5 402.2 1800.5 412.9 1800.8 424.3C1801.1 435.8 1801.4 447.2 1803.2 458.7C1805.1 470.1 1809.2 481.6 1811.8 493C1814.4 504.4 1817.2 515.9 1818.7 527.3C1820.1 538.8 1820.7 550.2 1820.4 561.7C1820.1 573.1 1817.8 585.1 1817 596C1816.1 606.9 1815.5 621.8 1815.2 626.9" stroke="#4A4AB0" stroke-width="1.7"/>
<path d="M1731.1 253.1C1728.8 254.2 1718.5 257.7 1717.4 260C1716.2 262.2 1720.8 264.8 1724.2 266.8C1727.7 268.8 1733.7 270 1738 272C1742.3 274 1748 277.7 1750 278.8C1752 280 1747.7 280 1750 278.8C1752.3 277.7 1759.2 273.4 1763.7 272C1768.3 270.5 1772.9 268.5 1777.5 270.3C1782 272 1787.8 276.8 1791.2 282.3C1794.6 287.7 1796.4 296 1798.1 302.9C1799.8 309.7 1801.5 315.5 1801.5 323.5C1801.5 331.5 1801.2 339.9 1798.1 350.9C1794.9 362 1785.4 377.8 1782.6 390C1779.9 402.2 1781.3 412.9 1781.6 424.3C1781.9 435.8 1782.7 448.4 1784.3 458.7C1785.9 469 1788.6 476.4 1791.2 486.1C1793.8 495.9 1797.5 507.3 1799.8 517C1802.1 526.8 1804.1 534.8 1804.9 544.5C1805.8 554.2 1804.6 564 1804.9 575.4C1805.2 586.9 1806.7 604 1806.7 613.2C1806.7 622.3 1805.2 627.5 1804.9 630.3" stroke="#4440B0" stroke-width="1.7"/>
<path d="M1863.3 98.6C1867.3 100 1879.3 103.4 1887.3 107.2C1895.4 110.9 1903.9 114.6 1911.4 120.9C1918.8 127.2 1926 137.5 1932 144.9C1938 152.4 1946.9 159.2 1947.4 165.5C1948 171.8 1939.7 176.4 1935.4 182.7C1931.1 189 1926.8 195.9 1921.7 203.3C1916.5 210.7 1909.1 220.5 1904.5 227.3C1899.9 234.2 1897 239.9 1894.2 244.5C1891.5 249.1 1889.1 253.1 1888 254.8" stroke="#F028B4" stroke-width="2.4"/>
<path d="M1877 282.3C1875.9 285.7 1873 294.9 1870.2 302.9C1867.3 310.9 1863.3 322.3 1859.9 330.3C1856.4 338.4 1854.1 341 1849.6 350.9C1845 360.9 1836.1 377.8 1832.4 390C1828.7 402.2 1828.1 412.9 1827.3 424.3C1826.4 435.8 1826.4 447.2 1827.3 458.7C1828.1 470.1 1830.7 481.6 1832.4 493C1834.1 504.4 1836.3 515.9 1837.6 527.3C1838.8 538.8 1839.8 550.2 1840 561.7C1840.1 573.1 1838.8 584.6 1838.6 596C1838.4 607.5 1838.6 616.6 1838.6 630.3C1838.6 644.1 1838.6 670.4 1838.6 678.4" stroke="#E060A0" stroke-width="2.0"/>
<path d="M1990.3 96.9C1993.8 98.6 2004.1 103.2 2010.9 107.2C2017.8 111.2 2025.8 115.8 2031.5 120.9C2037.3 126.1 2041.3 132.3 2045.3 138.1C2049.3 143.8 2052.4 150.1 2055.6 155.2C2058.7 160.4 2064.2 164.4 2064.2 169C2064.2 173.5 2060.4 178.1 2055.6 182.7C2050.7 187.3 2043 191.9 2035 196.4C2027 201 2016.1 205.6 2007.5 210.2C1998.9 214.7 1992.1 219.3 1983.5 223.9C1974.9 228.5 1963.4 233.1 1956 237.6C1948.6 242.2 1943.1 247.7 1938.8 251.4C1934.5 255.1 1931.7 258.5 1930.3 260" stroke="#1a1808" stroke-width="1.7"/>
<path d="M1914.8 289.1C1913.4 292.6 1909.7 301.7 1906.2 309.7C1902.8 317.8 1898.5 328.1 1894.2 337.2C1889.9 346.4 1885.6 355.9 1880.5 364.7C1875.3 373.5 1867.9 380.1 1863.3 390C1858.7 399.9 1855.3 412.9 1853 424.3C1850.7 435.8 1849.9 447.2 1849.6 458.7C1849.3 470.1 1850.7 481.6 1851.3 493C1851.9 504.4 1852.4 515.9 1853 527.3C1853.6 538.8 1854.7 550.2 1854.7 561.7C1854.7 573.1 1853.6 584.6 1853 596C1852.4 607.5 1851.6 621.2 1851.3 630.3C1851 639.5 1851.3 647.5 1851.3 650.9" stroke="#1a1808" stroke-width="1.7"/>
<path d="M1997.2 273.7C2000.1 272.8 2008.1 268.8 2014.4 268.5C2020.7 268.3 2027.5 269.7 2035 272C2042.4 274.3 2051.6 278.3 2059 282.3C2066.5 286.3 2072.7 291.4 2079.6 296C2086.5 300.6 2093.3 305.7 2100.2 309.7C2107.1 313.7 2112.9 316 2120.8 320C2128.7 324 2143.1 331.5 2147.6 333.8" stroke="#1a1808" stroke-width="1.7"/>
<path d="M1973.2 299.4C1971.5 303.4 1965.7 316 1962.9 323.5C1960 330.9 1959.4 337.8 1956 344.1C1952.6 350.4 1946.9 356.1 1942.3 361.2C1937.7 366.4 1933.1 370.2 1928.5 375C1924 379.8 1920.5 384.1 1914.8 390C1909.1 395.9 1900.5 403.2 1894.2 410.6C1887.9 418 1880.8 426.6 1877 434.6C1873.3 442.6 1872.7 448.9 1871.9 458.7C1871 468.4 1872.2 481.6 1871.9 493C1871.6 504.4 1870.5 515.9 1870.2 527.3C1869.9 538.8 1870.5 550.2 1870.2 561.7C1869.9 573.1 1869 584.6 1868.5 596C1867.9 607.5 1867.3 621.2 1866.7 630.3C1866.2 639.5 1865.3 647.5 1865 650.9" stroke="#1a1808" stroke-width="1.7"/>
<path d="M2100.2 368.1C2096.8 368.2 2086.5 368.2 2079.6 368.8C2072.7 369.4 2065.9 369.9 2059 371.5C2052.1 373.1 2045.3 375.3 2038.4 378.4C2031.5 381.5 2028.7 384.6 2017.8 390C2006.9 395.4 1986.9 404.9 1973.2 410.6C1959.4 416.3 1946.3 419.2 1935.4 424.3C1924.5 429.5 1914.5 435.2 1907.9 441.5C1901.4 447.8 1898.5 453.5 1895.9 462.1C1893.3 470.7 1893.3 482.1 1892.5 493C1891.6 503.9 1891.6 515.9 1890.8 527.3C1889.9 538.8 1888.8 550.2 1887.3 561.7C1885.9 573.1 1883.6 584.6 1882.2 596C1880.8 607.5 1879.6 621.2 1878.8 630.3C1877.9 639.5 1877.3 647.5 1877 650.9" stroke="#1a1808" stroke-width="1.7"/>
<path d="M2131.1 366.4L2147.6 375" stroke="#1a1808" stroke-width="1.7"/>
<path d="M2136.3 98.6L2147.6 114" stroke="#1a1808" stroke-width="1.7"/>
<path d="M2147.6 431.2C2141.4 428.9 2122.4 420 2110.5 417.5C2098.6 414.9 2087.6 414.6 2076.2 415.8C2064.7 416.9 2053.3 420.6 2041.8 424.3C2030.4 428.1 2019 434.1 2007.5 438.1C1996.1 442.1 1984 444.4 1973.2 448.4C1962.3 452.4 1950.3 457 1942.3 462.1C1934.3 467.3 1929.7 471.8 1925.1 479.3C1920.5 486.7 1917.4 495.9 1914.8 506.7C1912.2 517.6 1911.4 532.5 1909.7 544.5C1907.9 556.5 1907.1 568 1904.5 578.8C1901.9 589.7 1896.5 601.2 1894.2 609.7C1891.9 618.3 1891.3 626.9 1890.8 630.3" stroke="#1a1808" stroke-width="1.7"/>
<path d="M2147.6 479.3C2143.1 477 2131 469.3 2120.8 465.5C2110.6 461.8 2097.9 458.1 2086.5 457C2075 455.8 2063.6 456.7 2052.1 458.7C2040.7 460.7 2029.3 465 2017.8 469C2006.4 473 1993.2 477.6 1983.5 482.7C1973.7 487.9 1966.3 492.4 1959.4 499.9C1952.6 507.3 1946.9 518.2 1942.3 527.3C1937.7 536.5 1934.5 546.8 1932 554.8C1929.4 562.8 1929.7 569.1 1926.8 575.4C1924 581.7 1918 585.7 1914.8 592.6C1911.7 599.4 1909.4 610.3 1907.9 616.6C1906.5 622.9 1906.5 628.1 1906.2 630.3" stroke="#1a1808" stroke-width="1.7"/>
<path d="M1925.1 654.4C1924.5 655.5 1921.1 658.7 1921.7 661.2C1922.2 663.8 1922.8 667.8 1928.5 669.8C1934.3 671.8 1945.7 672.7 1956 673.3C1966.3 673.8 1978.9 673.8 1990.3 673.3C2001.8 672.7 2013.2 671.8 2024.7 669.8C2036.1 667.8 2049.9 665.5 2059 661.2C2068.2 657 2074.5 650.4 2079.6 644.1C2084.8 637.8 2086.5 631.5 2089.9 623.5C2093.3 615.5 2096.8 605.2 2100.2 596C2103.6 586.9 2107.7 577.7 2110.5 568.5C2113.4 559.4 2118 549.1 2117.4 541.1C2116.8 533.1 2112.2 526.2 2107.1 520.5C2101.9 514.7 2094.5 509.9 2086.5 506.7C2078.5 503.6 2069.3 501.9 2059 501.6C2048.7 501.3 2035 503 2024.7 505C2014.4 507 2005.8 509.3 1997.2 513.6C1988.6 517.9 1980.6 524.5 1973.2 530.8C1965.7 537.1 1958.9 543.9 1952.6 551.4C1946.3 558.8 1939.4 569.7 1935.4 575.4C1931.4 581.1 1928.8 581.1 1928.5 585.7C1928.3 590.3 1932.8 600 1933.7 602.9" stroke="#1a1808" stroke-width="1.7"/>
<path d="M1969.7 561.7C1973.2 560.5 1982.3 556.2 1990.3 554.8C1998.4 553.4 2009.2 552.8 2017.8 553.1C2026.4 553.4 2036.4 553.9 2041.8 556.5C2047.3 559.1 2050.4 563.7 2050.4 568.5C2050.4 573.4 2046.1 580.6 2041.8 585.7C2037.6 590.9 2031 595.4 2024.7 599.4C2018.4 603.4 2010.9 606.6 2004.1 609.7C1997.2 612.9 1989.2 616.6 1983.5 618.3C1977.8 620 1972.3 621.5 1969.7 620C1967.2 618.6 1968.3 611.5 1968 609.7" stroke="#1a1808" stroke-width="1.7"/>
<path d="M2117.4 680.1C2119.7 677.6 2127.1 669 2131.1 664.7C2135.1 660.4 2138.7 656.4 2141.4 654.4C2144.2 652.4 2146.6 652.9 2147.6 652.7" stroke="#1a1808" stroke-width="1.7"/>
<path d="M1353.3 499.4C1355 497.9 1359.5 493 1363.4 490.4C1367.3 487.8 1371.6 485.8 1376.8 483.7C1382 481.7 1387.9 479.8 1394.6 478.2C1401.3 476.5 1409.5 475.4 1417 473.7C1424.4 472 1431.8 470.2 1439.3 468.1C1446.7 466.1 1454.1 464 1461.6 461.4C1469 458.8 1476.5 455.1 1483.9 452.5C1491.3 449.9 1498.8 447.3 1506.2 445.8C1513.7 444.3 1523 444.9 1528.5 443.6C1534.1 442.3 1536 439.3 1539.7 438C1543.4 436.7 1547.1 435.8 1550.9 435.8C1554.6 435.8 1558.3 436.7 1562 438C1565.7 439.3 1569.8 441.9 1573.2 443.6C1576.5 445.2 1579.5 445 1582.1 448C1584.7 451 1586.9 458.1 1588.8 461.4C1590.7 464.8 1591 466.8 1593.3 468.1C1595.5 469.4 1599.4 469.2 1602.2 469.2C1605 469.2 1606.2 467.9 1610 468.1C1613.7 468.4 1620.5 468.8 1624.7 470.7C1628.8 472.5 1631 475 1635 479.3C1639 483.6 1646.4 493.6 1648.7 496.4" stroke="#2E6FC4" stroke-width="1.7"/>
<path d="M1691.7 535.7C1693.9 535.8 1700.8 536.2 1705.1 536.2C1709.3 536.2 1715.3 535.8 1717.3 535.7" stroke="#4050B4" stroke-width="1.7"/>
<path d="M1717.3 535.7C1718 533.5 1720.7 528.3 1721.1 522.3C1721.5 516.4 1721.3 507.1 1719.8 500C1718.3 492.9 1714.3 487.5 1712 480C1709.7 472.5 1707.5 463.3 1706 455C1704.5 446.7 1703.3 436.5 1703 430C1702.7 423.5 1703 419.5 1704 416C1705 412.5 1706.7 409 1709 409C1711.3 409 1714 410.5 1718 416C1722 421.5 1727.7 432.7 1733 442C1738.3 451.3 1745.4 461.2 1750 472C1754.6 482.8 1756.9 496.4 1760.3 506.7C1763.7 517.1 1768.6 522.8 1770.6 534.2C1772.6 545.7 1772.3 559.4 1772.3 575.4C1772.3 591.4 1770.3 613.7 1770.6 630.3C1770.9 646.9 1773.5 667.5 1774 675" stroke="#4050B4" stroke-width="1.7"/>
<path d="M1506.2 585.1C1507.3 582.3 1510.3 575 1512.9 568.5C1515.5 562.1 1518.9 553.7 1521.8 546.2C1524.8 538.8 1528.2 529.9 1530.8 523.9C1533.4 518 1534.9 513.7 1537.5 510.5C1540.1 507.4 1543 506.1 1546.4 504.9C1549.7 503.8 1553.8 503.3 1557.6 503.8C1561.3 504.4 1565.4 506.4 1568.7 508.3C1572.1 510.1 1574.7 513.1 1577.6 515C1580.6 516.8 1583.6 519.1 1586.6 519.4C1589.5 519.8 1592.9 519.1 1595.5 517.2C1598.1 515.3 1600.3 511.3 1602.2 508.3C1604 505.3 1605.3 501.2 1606.7 499.4C1608 497.5 1608.5 496.6 1610 497.1C1611.5 497.6 1613 500.1 1615.8 502.2C1618.6 504.4 1623.6 507.1 1627 510C1630.3 513 1633.3 517.7 1635.9 520.1C1638.5 522.5 1641.5 523.8 1642.6 524.5" stroke="#2E6FC4" stroke-width="1.7"/>
<path d="M1705.1 567C1706.2 568.1 1709.5 572.5 1711.8 573.6C1714 574.8 1716.6 575.5 1718.5 573.6C1720.3 571.8 1721.1 566.6 1722.9 562.5C1724.8 558.4 1727 552.6 1729.6 549.1C1732.2 545.6 1735.9 542.8 1738.5 541.3C1741.1 539.8 1743 539.6 1745.2 540.2C1747.5 540.7 1749.7 542 1751.9 544.6C1754.2 547.2 1756.4 552.1 1758.6 555.8C1760.9 559.5 1763.1 562.1 1765.3 567C1767.6 571.8 1770.5 577.4 1772 584.8C1773.5 592.2 1773.7 603.4 1774.2 611.6C1774.8 619.8 1775 626.5 1775.4 633.9C1775.7 641.3 1776.1 648.8 1776.5 656.2C1776.9 663.7 1777.4 674.8 1777.6 678.5" stroke="#3858B8" stroke-width="1.7"/>
<path d="M1600.2 529C1601.7 527.9 1606.1 523.1 1609.1 522.3C1612.1 521.6 1615 522.7 1618 524.5C1621 526.4 1623.6 530.5 1627 533.5C1630.3 536.5 1634.4 539.4 1638.1 542.4C1641.8 545.4 1645.6 548.7 1649.3 551.3C1653 553.9 1656.7 555.8 1660.4 558C1664.1 560.3 1667.5 562.1 1671.6 564.7C1675.7 567.3 1680.5 571 1685 573.6C1689.4 576.3 1693.9 578.3 1698.4 580.3C1702.8 582.4 1708 584.8 1711.8 585.9C1715.5 587 1718.5 588.3 1720.7 587C1722.9 585.7 1722.9 580.3 1725.1 578.1C1727.4 575.9 1731.5 573.6 1734.1 573.6C1736.7 573.6 1738.9 575.5 1740.8 578.1C1742.6 580.7 1743.4 583.7 1745.2 589.3C1747.1 594.8 1749.7 604.1 1751.9 611.6C1754.2 619 1756.4 626.5 1758.6 633.9C1760.9 641.3 1763.5 648.8 1765.3 656.2C1767.2 663.7 1769 674.8 1769.8 678.5" stroke="#2A74CC" stroke-width="1.7"/>
<path d="M1560 567C1563.7 566.6 1576.7 567 1582.3 564.7C1587.9 562.5 1589.8 557.5 1593.5 553.6C1597.2 549.7 1601.3 543.5 1604.6 541.3C1608 539.1 1609.8 538.9 1613.6 540.2C1617.3 541.5 1622.5 545.8 1627 549.1C1631.4 552.4 1635.9 556.9 1640.3 560.3C1644.8 563.6 1648.5 566.4 1653.7 569.2C1658.9 572 1666.4 574.6 1671.6 577C1676.8 579.4 1681.3 582 1685 583.7C1688.7 585.4 1692.4 586.5 1693.9 587" stroke="#2A74CC" stroke-width="1.7"/>
<path d="M1560 589.3C1561.9 588.2 1567.4 584.8 1571.2 582.6C1574.9 580.3 1578.6 578.5 1582.3 575.9C1586 573.3 1589.8 568.8 1593.5 567C1597.2 565.1 1600.5 564.7 1604.6 564.7C1608.7 564.7 1613.6 565.1 1618 567C1622.5 568.8 1627.3 573.1 1631.4 575.9C1635.5 578.7 1640.7 582.4 1642.6 583.7" stroke="#2A74CC" stroke-width="1.7"/>
<path d="M1571.2 593.7C1573.8 592.2 1581.2 587.4 1586.8 584.8C1592.4 582.2 1599.4 578.9 1604.6 578.1C1609.8 577.4 1613.2 578.5 1618 580.3C1622.9 582.2 1628.4 585.9 1633.6 589.3C1638.9 592.6 1643.7 596.7 1649.3 600.4C1654.8 604.1 1661.2 608.6 1667.1 611.6C1673.1 614.6 1680.5 616.6 1685 618.3C1689.4 620 1690.9 622 1693.9 621.6C1696.9 621.3 1699.1 618.1 1702.8 616.1C1706.6 614 1711.8 610.8 1716.2 609.4C1720.7 607.9 1727.4 607.5 1729.6 607.1" stroke="#2A74CC" stroke-width="1.7"/>
<path d="M1560 607.1C1562.2 606 1568.6 602.7 1573.4 600.4C1578.2 598.2 1583.8 595.2 1589 593.7C1594.2 592.2 1599.8 591.1 1604.6 591.5C1609.5 591.9 1614.3 594.1 1618 596C1621.7 597.8 1625.5 601.5 1627 602.7" stroke="#2A74CC" stroke-width="1.7"/>
<path d="M1716.2 589.3C1717.7 588.2 1722.4 582.6 1725.1 582.6C1727.9 582.6 1730.9 584.4 1733 589.3C1735 594.1 1735.9 604.1 1737.4 611.6C1738.9 619 1740.4 626.5 1741.9 633.9C1743.4 641.3 1745 648.8 1746.4 656.2C1747.7 663.7 1749.1 674.8 1749.7 678.5" stroke="#2A74CC" stroke-width="1.6"/>
<path d="M1720.2 586.6C1721.7 585.6 1726.4 580.1 1729.2 580.3C1732 580.6 1734.9 582.7 1737 587.9C1739 593.1 1740 603.9 1741.4 611.6C1742.9 619.2 1744.4 626.5 1745.9 633.9C1747.4 641.3 1749.1 648.8 1750.4 656.2C1751.7 663.7 1753.2 674.8 1753.7 678.5" stroke="#2A74CC" stroke-width="1.6"/>
<path d="M1724.3 583.9C1725.7 582.9 1730.4 577.7 1733.2 578.1C1736 578.6 1738.9 581 1741 586.6C1743 592.2 1744 603.7 1745.5 611.6C1746.9 619.5 1748.4 626.5 1749.9 633.9C1751.4 641.3 1753.1 648.8 1754.4 656.2C1755.7 663.7 1757.2 674.8 1757.7 678.5" stroke="#2A74CC" stroke-width="1.6"/>
<path d="M1728.3 581.2C1729.8 580.3 1734.4 575.2 1737.2 575.9C1740 576.5 1743 579.3 1745 585.3C1747.1 591.2 1748 603.5 1749.5 611.6C1751 619.7 1752.5 626.5 1753.9 633.9C1755.4 641.3 1757.1 648.8 1758.4 656.2C1759.7 663.7 1761.2 674.8 1761.7 678.5" stroke="#2A74CC" stroke-width="1.6"/>
<path d="M1732.3 578.6C1733.8 577.7 1738.4 572.8 1741.2 573.6C1744 574.5 1747 577.6 1749 583.9C1751.1 590.2 1752 603.3 1753.5 611.6C1755 619.9 1756.5 626.5 1758 633.9C1759.4 641.3 1761.1 648.8 1762.4 656.2C1763.7 663.7 1765.2 674.8 1765.8 678.5" stroke="#2A74CC" stroke-width="1.6"/>
<path d="M1353.3 548C1356.5 548.4 1365.1 549.4 1372.3 550.2C1379.6 551.1 1392.8 552.6 1396.9 553.1" stroke="#2E6FC4" stroke-width="1.7"/>
<path d="M1454.9 569.2C1457.5 569.3 1465.3 569.1 1470.5 569.6C1475.7 570.2 1483.3 569.3 1486.1 572.5C1488.9 575.8 1488.4 583.9 1487.3 589.3C1486.1 594.7 1481.1 600.4 1479.4 604.9C1477.8 609.4 1476.8 612.7 1477.2 616.1C1477.6 619.4 1479.1 622 1481.7 625C1484.3 628 1488.7 630.6 1492.8 633.9C1496.9 637.3 1502.1 641.3 1506.2 645.1C1510.3 648.8 1515.5 654.4 1517.4 656.2" stroke="#2E6FC4" stroke-width="1.7"/>
<path d="M1353.3 582.6C1355.8 583.1 1362.1 584.8 1367.9 585.9C1373.6 587 1381.2 587.8 1387.9 589.3C1394.6 590.8 1401.3 593.7 1408 594.8C1414.7 596 1422.2 595.8 1428.1 596C1434.1 596.2 1439.6 595 1443.7 596C1447.8 596.9 1451.2 600.6 1452.7 601.5" stroke="#2E6FC4" stroke-width="1.7"/>
<path d="M1353.3 658.5C1355 657.7 1359.5 655.5 1363.4 654C1367.3 652.5 1373.4 651.4 1376.8 649.5C1380.1 647.7 1383.5 645.4 1383.5 642.8C1383.5 640.2 1376.4 636.5 1376.8 633.9C1377.2 631.3 1381.6 629.1 1385.7 627.2C1389.8 625.3 1396.5 623.3 1401.3 622.7C1406.2 622.2 1411 622.4 1414.7 623.9C1418.4 625.3 1420.3 628.5 1423.6 631.7C1427 634.8 1431.1 639.1 1434.8 642.8C1438.5 646.6 1443 650.3 1446 654C1448.9 657.7 1451.9 661.1 1452.7 665.1C1453.4 669.2 1450.8 676.3 1450.4 678.5" stroke="#2E6FC4" stroke-width="1.7"/>
<path d="M1539.7 562.5C1539 565.5 1536.7 574 1535.2 580.3C1533.7 586.7 1531.9 594.5 1530.8 600.4C1529.7 606.4 1528.5 611.6 1528.5 616.1C1528.5 620.5 1530.4 625.3 1530.8 627.2" stroke="#2E6FC4" stroke-width="1.7"/>
<path d="M1541.9 506.7C1540.4 509.3 1536 516 1533 522.3C1530 528.6 1527.1 536.5 1524.1 544.6C1521.1 552.8 1518.1 564 1515.1 571.4C1512.2 578.9 1508.8 584.1 1506.2 589.3C1503.6 594.5 1501 598.2 1499.5 602.7C1498 607.1 1496.2 612 1497.3 616.1C1498.4 620.1 1502.9 623.5 1506.2 627.2C1509.6 630.9 1514.4 635.4 1517.4 638.4C1520.4 641.3 1523 643.9 1524.1 645.1" stroke="#2E6FC4" stroke-width="1.7"/>
<path d="M1610 531.2C1607.6 532.7 1601.6 537.6 1595.5 540.2C1589.4 542.8 1578.8 544.3 1573.2 546.9C1567.6 549.5 1565.7 551.7 1562 555.8C1558.3 559.9 1553.8 565.8 1550.9 571.4C1547.9 577 1546 583.3 1544.2 589.3C1542.3 595.2 1541.2 601.9 1539.7 607.1C1538.2 612.3 1536.4 616.8 1535.2 620.5C1534.1 624.2 1533.4 628 1533 629.4" stroke="#2E6FC4" stroke-width="1.7"/>
<path d="M1610 562.5C1606.8 562.9 1597.2 564 1591 564.7C1584.9 565.5 1578 565.1 1573.2 567C1568.3 568.8 1565 572.2 1562 575.9C1559 579.6 1557.2 585.2 1555.3 589.3C1553.5 593.4 1552.3 596 1550.9 600.4C1549.4 604.9 1547.9 611.6 1546.4 616.1C1544.9 620.5 1542.7 625.3 1541.9 627.2" stroke="#2E6FC4" stroke-width="1.7"/>
<path d="M1477.2 593.7C1477.6 596.7 1477.6 606.4 1479.4 611.6C1481.3 616.8 1484.6 620.9 1488.4 625C1492.1 629.1 1497.3 632.8 1501.8 636.1C1506.2 639.5 1512.9 643.6 1515.1 645.1" stroke="#2E6FC4" stroke-width="1.7"/>
<path d="M1488.4 665.1C1489.9 664.8 1494.3 662.7 1497.3 662.9C1500.3 663.1 1503.6 664.4 1506.2 666.3C1508.8 668.1 1511.8 672.8 1512.9 674.1" stroke="#2E6FC4" stroke-width="1.7"/>
<path d="M1481.7 651C1481.2 651.6 1479.9 651.9 1478.4 651.6C1476.9 651.3 1474.6 650.4 1472.5 649.3C1470.5 648.1 1468.1 646.4 1466.3 644.9C1464.6 643.4 1462.9 641.5 1462.1 640.2C1461.3 638.9 1461.1 637.6 1461.6 636.9C1462 636.3 1463.3 636 1464.8 636.3C1466.4 636.6 1468.7 637.5 1470.7 638.6C1472.7 639.8 1475.2 641.5 1476.9 643C1478.7 644.5 1480.3 646.4 1481.1 647.7C1481.9 649 1482.1 650.3 1481.7 651Z" stroke="#2E6FC4" stroke-width="1.7"/>
</g>
<g filter="url(#bt)">
<text class="lab" x="1380.9" y="189.3" font-size="26" text-anchor="middle" fill="#6020a0" fill-opacity="0.5" transform="rotate(-40 1380.9 180)">−8</text>
<text class="lab" x="1380.2" y="240.8" font-size="26" text-anchor="middle" fill="#6020a0" fill-opacity="0.45" transform="rotate(-40 1380.2 231.5)">−6</text>
<text class="lab" x="1427.3" y="263.5" font-size="26" text-anchor="middle" fill="#6040a0" fill-opacity="0.4" transform="rotate(-50 1427.3 254.1)">−4</text>
<text class="lab" x="1577.3" y="287.5" font-size="26" text-anchor="middle" fill="#6040a0" fill-opacity="0.4" transform="rotate(-40 1577.3 278.2)">−6</text>
<text class="lab" x="1760.3" y="241.8" font-size="26" text-anchor="middle" fill="#6020a0" fill-opacity="0.4" transform="rotate(-50 1760.3 232.5)">−4</text>
<text class="lab" x="1850.3" y="217.8" font-size="26" text-anchor="middle" fill="#8020a0" fill-opacity="0.4" transform="rotate(-80 1850.3 208.5)">−2</text>
<text class="lab" x="1881.5" y="274.5" font-size="26" text-anchor="middle" fill="#c02090" fill-opacity="0.4" transform="rotate(-70 1881.5 265.1)">0</text>
<text class="lab" x="1921.7" y="281.4" font-size="28" text-anchor="middle" fill="#403000" fill-opacity="0.5" transform="rotate(-60 1921.7 271.3)">2</text>
<text class="lab" x="1983.5" y="295.1" font-size="28" text-anchor="middle" fill="#403000" fill-opacity="0.5" transform="rotate(-45 1983.5 285)">4</text>
<text class="lab" x="2115.7" y="379.9" font-size="28" text-anchor="middle" fill="#403000" fill-opacity="0.5" transform="rotate(-10 2115.7 369.8)">6</text>
<text class="lab" x="1435.9" y="565.6" font-size="26" text-anchor="middle" fill="#205080" fill-opacity="0.45" transform="rotate(20 1435.9 556.3)">−8</text>
<text class="lab" x="1573.2" y="544.4" font-size="26" text-anchor="middle" fill="#205080" fill-opacity="0.45" transform="rotate(-10 1573.2 535.1)">−12</text>
<text class="lab" x="1673.8" y="528.3" font-size="26" text-anchor="middle" fill="#205080" fill-opacity="0.45" transform="rotate(40 1673.8 519)">−8</text>
<text class="lab" x="1681.6" y="561.8" font-size="26" text-anchor="middle" fill="#205080" fill-opacity="0.45" transform="rotate(38 1681.6 552.4)">−10</text>
<text class="lab" x="1693.9" y="609.8" font-size="26" text-anchor="middle" fill="#205080" fill-opacity="0.45" transform="rotate(-10 1693.9 600.4)">14</text>
<text class="lab" x="1974.9" y="602.7" font-size="28" text-anchor="middle" fill="#202000" fill-opacity="0.6" transform="rotate(90 1974.9 592.6)">14</text>
<text class="lab" x="1911.4" y="652.4" font-size="28" text-anchor="middle" fill="#202000" fill-opacity="0.6" transform="rotate(80 1911.4 642.4)">12</text>
<text class="lab" x="1804.2" y="639.2" font-size="17" text-anchor="middle" fill="#2A6FC0" fill-opacity="0.75" transform="rotate(0 1804.2 633.1)">02024</text>
<text class="lab" x="1857.1" y="666" font-size="17" text-anchor="middle" fill="#404020" fill-opacity="0.7" transform="rotate(0 1857.1 659.9)">0468 10</text>
</g>
<g filter="url(#bl)">
<path d="M1517.6 680.4C1518.5 679.1 1521.9 675.2 1523.3 672.4C1524.7 669.5 1525.1 666.3 1526.2 663.2C1527.2 660.2 1528.8 657.3 1529.6 654.1C1530.4 650.8 1530.2 646.6 1530.7 643.8C1531.3 640.9 1531.8 638.5 1533 636.9C1534.3 635.3 1536.6 634.1 1538.2 634.1C1539.8 634.1 1541 635.7 1542.8 636.9C1544.5 638.2 1546.4 640.3 1548.5 641.5C1550.6 642.6 1553.1 642.8 1555.3 643.8C1557.6 644.7 1560.1 646.8 1562.2 647.2C1564.3 647.6 1566.4 647 1567.9 646.1C1569.5 645.1 1570.3 643.4 1571.4 641.5C1572.4 639.6 1573.5 637.1 1574.2 634.6C1575 632.1 1574.9 628.9 1575.9 626.6C1577 624.3 1578.6 622.3 1580.5 620.9C1582.4 619.5 1585.3 619.1 1587.4 618C1589.5 617 1590.6 615.4 1593.1 614.6C1595.6 613.8 1599.4 613.6 1602.3 613.5C1605.1 613.4 1608 613.4 1610.3 614C1612.6 614.7 1614.1 616.1 1616 617.5C1617.9 618.8 1620 620.5 1621.7 622C1623.4 623.6 1624.9 624.7 1626.3 626.6C1627.6 628.5 1628.6 631.4 1629.7 633.5C1630.9 635.6 1632.2 637.1 1633.1 639.2C1634.1 641.3 1634.5 644 1635.4 646.1C1636.4 648.2 1637.7 649.9 1638.9 651.8C1640 653.7 1641 655.4 1642.3 657.5C1643.6 659.6 1645.2 662.3 1646.9 664.4C1648.6 666.5 1650.5 668.6 1652.6 670.1C1654.7 671.6 1657.2 672.6 1659.5 673.5C1661.8 674.5 1664.2 675 1666.3 675.8C1668.4 676.7 1671.1 678.2 1672 678.7L1682 690L1511.6 690Z" fill="#000"/>
<path d="M1517.6 680.4C1518.5 679.1 1521.9 675.2 1523.3 672.4C1524.7 669.5 1525.1 666.3 1526.2 663.2C1527.2 660.2 1528.8 657.3 1529.6 654.1C1530.4 650.8 1530.2 646.6 1530.7 643.8C1531.3 640.9 1531.8 638.5 1533 636.9C1534.3 635.3 1536.6 634.1 1538.2 634.1C1539.8 634.1 1541 635.7 1542.8 636.9C1544.5 638.2 1546.4 640.3 1548.5 641.5C1550.6 642.6 1553.1 642.8 1555.3 643.8C1557.6 644.7 1560.1 646.8 1562.2 647.2C1564.3 647.6 1566.4 647 1567.9 646.1C1569.5 645.1 1570.3 643.4 1571.4 641.5C1572.4 639.6 1573.5 637.1 1574.2 634.6C1575 632.1 1574.9 628.9 1575.9 626.6C1577 624.3 1578.6 622.3 1580.5 620.9C1582.4 619.5 1585.3 619.1 1587.4 618C1589.5 617 1590.6 615.4 1593.1 614.6C1595.6 613.8 1599.4 613.6 1602.3 613.5C1605.1 613.4 1608 613.4 1610.3 614C1612.6 614.7 1614.1 616.1 1616 617.5C1617.9 618.8 1620 620.5 1621.7 622C1623.4 623.6 1624.9 624.7 1626.3 626.6C1627.6 628.5 1628.6 631.4 1629.7 633.5C1630.9 635.6 1632.2 637.1 1633.1 639.2C1634.1 641.3 1634.5 644 1635.4 646.1C1636.4 648.2 1637.7 649.9 1638.9 651.8C1640 653.7 1641 655.4 1642.3 657.5C1643.6 659.6 1645.2 662.3 1646.9 664.4C1648.6 666.5 1650.5 668.6 1652.6 670.1C1654.7 671.6 1657.2 672.6 1659.5 673.5C1661.8 674.5 1664.2 675 1666.3 675.8C1668.4 676.7 1671.1 678.2 1672 678.7" fill="none" stroke="#fff" stroke-width="2.5" stroke-linejoin="round" stroke-linecap="round"/>
<path d="M1672 678h14" fill="none" stroke="#ddd" stroke-width="2.5"/>
</g>
</g>
<g filter="url(#bl)" stroke="#151505" fill="none">
<rect x="1355.5" y="97.5" width="792.0" height="582.5" stroke-width="2.1" stroke-opacity="0.85"/>
<path d="M1371.3 97.5v6.5M1371.3 680.0v-6.5M1387.2 97.5v6.5M1387.2 680.0v-6.5M1403 97.5v6.5M1403 680.0v-6.5M1418.9 97.5v6.5M1418.9 680.0v-6.5M1434.7 97.5v6.5M1434.7 680.0v-6.5M1450.5 97.5v6.5M1450.5 680.0v-6.5M1466.4 97.5v6.5M1466.4 680.0v-6.5M1482.2 97.5v6.5M1482.2 680.0v-6.5M1498.1 97.5v6.5M1498.1 680.0v-6.5M1513.9 97.5v13M1513.9 680.0v-13M1529.7 97.5v6.5M1529.7 680.0v-6.5M1545.6 97.5v6.5M1545.6 680.0v-6.5M1561.4 97.5v6.5M1561.4 680.0v-6.5M1577.3 97.5v6.5M1577.3 680.0v-6.5M1593.1 97.5v6.5M1593.1 680.0v-6.5M1608.9 97.5v6.5M1608.9 680.0v-6.5M1624.8 97.5v6.5M1624.8 680.0v-6.5M1640.6 97.5v6.5M1640.6 680.0v-6.5M1656.5 97.5v6.5M1656.5 680.0v-6.5M1672.3 97.5v13M1672.3 680.0v-13M1688.1 97.5v6.5M1688.1 680.0v-6.5M1704 97.5v6.5M1704 680.0v-6.5M1719.8 97.5v6.5M1719.8 680.0v-6.5M1735.7 97.5v6.5M1735.7 680.0v-6.5M1751.5 97.5v6.5M1751.5 680.0v-6.5M1767.3 97.5v6.5M1767.3 680.0v-6.5M1783.2 97.5v6.5M1783.2 680.0v-6.5M1799 97.5v6.5M1799 680.0v-6.5M1814.9 97.5v6.5M1814.9 680.0v-6.5M1830.7 97.5v13M1830.7 680.0v-13M1846.5 97.5v6.5M1846.5 680.0v-6.5M1862.4 97.5v6.5M1862.4 680.0v-6.5M1878.2 97.5v6.5M1878.2 680.0v-6.5M1894.1 97.5v6.5M1894.1 680.0v-6.5M1909.9 97.5v6.5M1909.9 680.0v-6.5M1925.7 97.5v6.5M1925.7 680.0v-6.5M1941.6 97.5v6.5M1941.6 680.0v-6.5M1957.4 97.5v6.5M1957.4 680.0v-6.5M1973.3 97.5v6.5M1973.3 680.0v-6.5M1989.1 97.5v13M1989.1 680.0v-13M2004.9 97.5v6.5M2004.9 680.0v-6.5M2020.8 97.5v6.5M2020.8 680.0v-6.5M2036.6 97.5v6.5M2036.6 680.0v-6.5M2052.5 97.5v6.5M2052.5 680.0v-6.5M2068.3 97.5v6.5M2068.3 680.0v-6.5M2084.1 97.5v6.5M2084.1 680.0v-6.5M2100 97.5v6.5M2100 680.0v-6.5M2115.8 97.5v6.5M2115.8 680.0v-6.5M2131.7 97.5v6.5M2131.7 680.0v-6.5M1355.5 659.2h7.5M2147.5 659.2h-7.5M1355.5 638.5h7.5M2147.5 638.5h-7.5M1355.5 617.8h7.5M2147.5 617.8h-7.5M1355.5 597h15M2147.5 597h-15M1355.5 576.2h7.5M2147.5 576.2h-7.5M1355.5 555.5h7.5M2147.5 555.5h-7.5M1355.5 534.8h7.5M2147.5 534.8h-7.5M1355.5 514h15M2147.5 514h-15M1355.5 493.2h7.5M2147.5 493.2h-7.5M1355.5 472.5h7.5M2147.5 472.5h-7.5M1355.5 451.8h7.5M2147.5 451.8h-7.5M1355.5 431h15M2147.5 431h-15M1355.5 410.2h7.5M2147.5 410.2h-7.5M1355.5 389.5h7.5M2147.5 389.5h-7.5M1355.5 368.8h7.5M2147.5 368.8h-7.5M1355.5 348h15M2147.5 348h-15M1355.5 327.2h7.5M2147.5 327.2h-7.5M1355.5 306.5h7.5M2147.5 306.5h-7.5M1355.5 285.8h7.5M2147.5 285.8h-7.5M1355.5 265h15M2147.5 265h-15M1355.5 244.2h7.5M2147.5 244.2h-7.5M1355.5 223.5h7.5M2147.5 223.5h-7.5M1355.5 202.8h7.5M2147.5 202.8h-7.5M1355.5 182h15M2147.5 182h-15M1355.5 161.2h7.5M2147.5 161.2h-7.5M1355.5 140.5h7.5M2147.5 140.5h-7.5M1355.5 119.8h7.5M2147.5 119.8h-7.5M1355.5 99h15M2147.5 99h-15" stroke-width="1.8" stroke-opacity="0.72"/>
</g>
<g filter="url(#bl)">
<rect x="950" y="632.3" width="33.5" height="49.3" fill="#0A3CC4"/>
<rect x="950" y="583.7" width="33.5" height="49.3" fill="#2E8470"/>
<rect x="950" y="535" width="33.5" height="49.3" fill="#4ABE12"/>
<rect x="950" y="486.3" width="33.5" height="49.3" fill="#64DC0F"/>
<rect x="950" y="437.7" width="33.5" height="49.3" fill="#A0E10A"/>
<rect x="950" y="389" width="33.5" height="49.3" fill="#E6E010"/>
<rect x="950" y="340.3" width="33.5" height="49.3" fill="#EAC60A"/>
<rect x="950" y="291.7" width="33.5" height="49.3" fill="#E8A60A"/>
<rect x="950" y="243" width="33.5" height="49.3" fill="#E68A0A"/>
<rect x="950" y="194.3" width="33.5" height="49.3" fill="#E67206"/>
<rect x="950" y="145.7" width="33.5" height="49.3" fill="#E45A04"/>
<rect x="950" y="97" width="33.5" height="49.3" fill="#E24000"/>
</g>
<g filter="url(#bl)">
<rect x="2205" y="642.1" width="33" height="39.5" fill="#0A3CC4"/>
<rect x="2205" y="603.1" width="33" height="39.5" fill="#2E8470"/>
<rect x="2205" y="564.2" width="33" height="39.5" fill="#4ABE12"/>
<rect x="2205" y="525.3" width="33" height="39.5" fill="#64DC0F"/>
<rect x="2205" y="486.3" width="33" height="39.5" fill="#A0E10A"/>
<rect x="2205" y="447.4" width="33" height="39.5" fill="#E6E010"/>
<rect x="2205" y="408.5" width="33" height="39.5" fill="#EEC206"/>
<rect x="2205" y="369.5" width="33" height="39.5" fill="#EBA608"/>
<rect x="2205" y="330.6" width="33" height="39.5" fill="#E88A08"/>
<rect x="2205" y="291.7" width="33" height="39.5" fill="#E67206"/>
<rect x="2205" y="252.7" width="33" height="39.5" fill="#E45A04"/>
<rect x="2205" y="213.8" width="33" height="39.5" fill="#E24402"/>
<rect x="2205" y="174.9" width="33" height="39.5" fill="#E03000"/>
<rect x="2205" y="135.9" width="33" height="39.5" fill="#DE1C00"/>
<rect x="2205" y="97" width="33" height="39.5" fill="#DC0000"/>
</g>
<g filter="url(#bt)">
<text font-size="30.2" xml:space="preserve"><tspan x="155" y="56.3" textLength="91" lengthAdjust="spacingAndGlyphs">RH(%)</tspan> <tspan x="263" y="56.3" textLength="20.5" lengthAdjust="spacingAndGlyphs">−</tspan> <tspan x="299" y="56.3" textLength="27" lengthAdjust="spacingAndGlyphs">T′</tspan> <tspan x="341.5" y="56.3" textLength="53" lengthAdjust="spacingAndGlyphs">[K]:</tspan> <tspan x="411.5" y="56.3" textLength="223.5" lengthAdjust="spacingAndGlyphs">201711171900</tspan> <tspan x="650.5" y="56.3" textLength="48.5" lengthAdjust="spacingAndGlyphs">Lat</tspan> <tspan x="715" y="56.3" textLength="21" lengthAdjust="spacingAndGlyphs">=</tspan> <tspan x="753" y="56.3" textLength="84.5" lengthAdjust="spacingAndGlyphs">39.20</tspan></text>
<text font-size="30.2" xml:space="preserve"><tspan x="1399.5" y="56.3" textLength="108.5" lengthAdjust="spacingAndGlyphs">v[m/s]</tspan> <tspan x="1525" y="56.3" textLength="20.5" lengthAdjust="spacingAndGlyphs">−</tspan> <tspan x="1562.5" y="56.3" textLength="17" lengthAdjust="spacingAndGlyphs" font-style="italic" font-size="26.5">θ</tspan><tspan x="1580" y="71.2" textLength="10" lengthAdjust="spacingAndGlyphs" font-size="15" font-weight="bold" class="sans">e</tspan> <tspan x="1606.5" y="56.3" textLength="52.5" lengthAdjust="spacingAndGlyphs">[K]:</tspan> <tspan x="1675.5" y="56.3" textLength="224" lengthAdjust="spacingAndGlyphs">201711171900</tspan> <tspan x="1915" y="56.3" textLength="48.5" lengthAdjust="spacingAndGlyphs">Lat</tspan> <tspan x="1980" y="56.3" textLength="20.5" lengthAdjust="spacingAndGlyphs">=</tspan> <tspan x="2017" y="56.3" textLength="84.8" lengthAdjust="spacingAndGlyphs">39.20</tspan></text>
<text x="83.8" y="724.6" font-size="28" textLength="34.6" lengthAdjust="spacingAndGlyphs">15</text>
<text x="242.3" y="724.6" font-size="28" textLength="34.6" lengthAdjust="spacingAndGlyphs">16</text>
<text x="400.8" y="724.6" font-size="28" textLength="34.6" lengthAdjust="spacingAndGlyphs">17</text>
<text x="559.3" y="724.6" font-size="28" textLength="34.6" lengthAdjust="spacingAndGlyphs">18</text>
<text x="717.8" y="724.6" font-size="28" textLength="34.6" lengthAdjust="spacingAndGlyphs">19</text>
<text x="876.3" y="724.6" font-size="28" textLength="34.6" lengthAdjust="spacingAndGlyphs">20</text>
<text x="72.5" y="681.6" font-size="28" textLength="17.5" lengthAdjust="spacingAndGlyphs">0</text>
<text x="72.5" y="607.3" font-size="28" textLength="17.5" lengthAdjust="spacingAndGlyphs">2</text>
<text x="72.5" y="524.3" font-size="28" textLength="17.5" lengthAdjust="spacingAndGlyphs">4</text>
<text x="72.5" y="441.3" font-size="28" textLength="17.5" lengthAdjust="spacingAndGlyphs">6</text>
<text x="72.5" y="358.3" font-size="28" textLength="17.5" lengthAdjust="spacingAndGlyphs">8</text>
<text x="57" y="275.3" font-size="28" textLength="33" lengthAdjust="spacingAndGlyphs">10</text>
<text x="57" y="192.3" font-size="28" textLength="33" lengthAdjust="spacingAndGlyphs">12</text>
<text x="57" y="117.6" font-size="28" textLength="33" lengthAdjust="spacingAndGlyphs">14</text>
<text x="450" y="748.8" font-size="28" textLength="91" lengthAdjust="spacingAndGlyphs">Lon(°)</text>
<text x="-43" y="389.5" font-size="28" textLength="177" lengthAdjust="spacingAndGlyphs" transform="rotate(-90 45.5 389.5)">Height(km)</text>
<text x="1338.8" y="724.6" font-size="28" textLength="34.6" lengthAdjust="spacingAndGlyphs">15</text>
<text x="1497.3" y="724.6" font-size="28" textLength="34.6" lengthAdjust="spacingAndGlyphs">16</text>
<text x="1655.8" y="724.6" font-size="28" textLength="34.6" lengthAdjust="spacingAndGlyphs">17</text>
<text x="1814.3" y="724.6" font-size="28" textLength="34.6" lengthAdjust="spacingAndGlyphs">18</text>
<text x="1972.8" y="724.6" font-size="28" textLength="34.6" lengthAdjust="spacingAndGlyphs">19</text>
<text x="2131.3" y="724.6" font-size="28" textLength="34.6" lengthAdjust="spacingAndGlyphs">20</text>
<text x="1327.5" y="681.6" font-size="28" textLength="17.5" lengthAdjust="spacingAndGlyphs">0</text>
<text x="1327.5" y="607.3" font-size="28" textLength="17.5" lengthAdjust="spacingAndGlyphs">2</text>
<text x="1327.5" y="524.3" font-size="28" textLength="17.5" lengthAdjust="spacingAndGlyphs">4</text>
<text x="1327.5" y="441.3" font-size="28" textLength="17.5" lengthAdjust="spacingAndGlyphs">6</text>
<text x="1327.5" y="358.3" font-size="28" textLength="17.5" lengthAdjust="spacingAndGlyphs">8</text>
<text x="1312" y="275.3" font-size="28" textLength="33" lengthAdjust="spacingAndGlyphs">10</text>
<text x="1312" y="192.3" font-size="28" textLength="33" lengthAdjust="spacingAndGlyphs">12</text>
<text x="1312" y="117.6" font-size="28" textLength="33" lengthAdjust="spacingAndGlyphs">14</text>
<text x="1705" y="748.8" font-size="28" textLength="91" lengthAdjust="spacingAndGlyphs">Lon(°)</text>
<text x="1212" y="389.5" font-size="28" textLength="177" lengthAdjust="spacingAndGlyphs" transform="rotate(-90 1300.5 389.5)">Height(km)</text>
<text x="1050.6" y="682.2" font-size="28.8" text-anchor="middle" class="sans">−3.0</text>
<text x="1050.6" y="633.5" font-size="28.8" text-anchor="middle" class="sans">−2.5</text>
<text x="1050.6" y="584.9" font-size="28.8" text-anchor="middle" class="sans">−2.0</text>
<text x="1050.6" y="536.2" font-size="28.8" text-anchor="middle" class="sans">−1.5</text>
<text x="1050.6" y="487.5" font-size="28.8" text-anchor="middle" class="sans">−1.0</text>
<text x="1050.6" y="438.9" font-size="28.8" text-anchor="middle" class="sans">−0.5</text>
<text x="1050.6" y="390.2" font-size="28.8" text-anchor="middle" class="sans">0.0</text>
<text x="1050.6" y="341.5" font-size="28.8" text-anchor="middle" class="sans">0.5</text>
<text x="1050.6" y="292.9" font-size="28.8" text-anchor="middle" class="sans">1.0</text>
<text x="1050.6" y="244.2" font-size="28.8" text-anchor="middle" class="sans">1.5</text>
<text x="1050.6" y="195.5" font-size="28.8" text-anchor="middle" class="sans">2.0</text>
<text x="1050.6" y="146.9" font-size="28.8" text-anchor="middle" class="sans">2.5</text>
<text x="2337" y="682" font-size="28.8" text-anchor="end" class="sans">300.0</text>
<text x="2337" y="643.1" font-size="28.8" text-anchor="end" class="sans">302.0</text>
<text x="2337" y="604.1" font-size="28.8" text-anchor="end" class="sans">304.0</text>
<text x="2337" y="565.2" font-size="28.8" text-anchor="end" class="sans">306.0</text>
<text x="2337" y="526.3" font-size="28.8" text-anchor="end" class="sans">308.0</text>
<text x="2337" y="487.3" font-size="28.8" text-anchor="end" class="sans">310.0</text>
<text x="2337" y="448.4" font-size="28.8" text-anchor="end" class="sans">312.0</text>
<text x="2337" y="409.5" font-size="28.8" text-anchor="end" class="sans">314.0</text>
<text x="2337" y="370.5" font-size="28.8" text-anchor="end" class="sans">316.0</text>
<text x="2337" y="331.6" font-size="28.8" text-anchor="end" class="sans">318.0</text>
<text x="2337" y="292.7" font-size="28.8" text-anchor="end" class="sans">320.0</text>
<text x="2337" y="253.7" font-size="28.8" text-anchor="end" class="sans">322.0</text>
<text x="2337" y="214.8" font-size="28.8" text-anchor="end" class="sans">324.0</text>
<text x="2337" y="175.9" font-size="28.8" text-anchor="end" class="sans">326.0</text>
<text x="2337" y="136.9" font-size="28.8" text-anchor="end" class="sans">328.0</text>
<text x="942" y="75.5" font-size="30" textLength="46.5" lengthAdjust="spacingAndGlyphs">[K]</text>
<text x="2196.5" y="78.9" font-size="30" textLength="46.5" lengthAdjust="spacingAndGlyphs">[K]</text>
</g>
<g filter="url(#bc)">
<text y="839.7" class="capr" font-size="59.5"><tspan x="519.9">(</tspan><tspan class="cap" font-size="61.5" x="538.7">a</tspan><tspan x="569">)</tspan></text>
<text y="839.7" class="capr" font-size="59.5"><tspan x="1768.8">(</tspan><tspan class="cap" font-size="61.5" x="1787.6">b</tspan><tspan x="1824">)</tspan></text>
</g>
</svg></body></html>
